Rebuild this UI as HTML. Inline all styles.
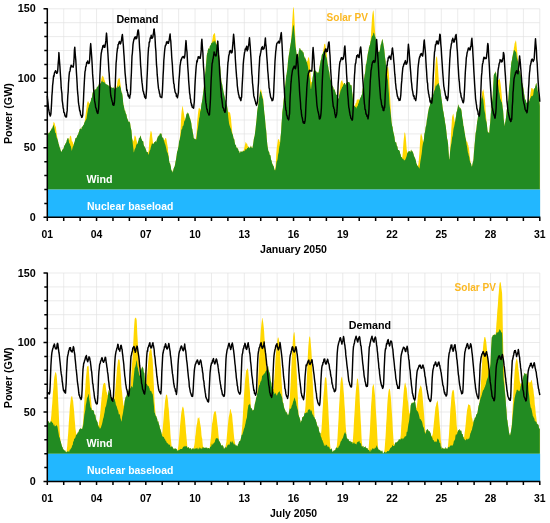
<!DOCTYPE html>
<html><head><meta charset="utf-8"><title>Power supply and demand 2050</title>
<style>html,body{margin:0;padding:0;background:#fff}svg{display:block}</style></head>
<body><svg width="550" height="523" viewBox="0 0 550 523">
<rect width="550" height="523" fill="#fff"/>
<path d="M47.3 203.40H539.8M47.3 189.50H539.8M47.3 175.60H539.8M47.3 161.70H539.8M47.3 147.80H539.8M47.3 133.90H539.8M47.3 120.00H539.8M47.3 106.10H539.8M47.3 92.20H539.8M47.3 78.30H539.8M47.3 64.40H539.8M47.3 50.50H539.8M47.3 36.60H539.8M47.3 22.70H539.8M47.3 8.80H539.8M63.72 8.8V217.3M80.13 8.8V217.3M96.55 8.8V217.3M112.97 8.8V217.3M129.38 8.8V217.3M145.80 8.8V217.3M162.22 8.8V217.3M178.63 8.8V217.3M195.05 8.8V217.3M211.47 8.8V217.3M227.88 8.8V217.3M244.30 8.8V217.3M260.72 8.8V217.3M277.13 8.8V217.3M293.55 8.8V217.3M309.97 8.8V217.3M326.38 8.8V217.3M342.80 8.8V217.3M359.22 8.8V217.3M375.63 8.8V217.3M392.05 8.8V217.3M408.47 8.8V217.3M424.88 8.8V217.3M441.30 8.8V217.3M457.72 8.8V217.3M474.13 8.8V217.3M490.55 8.8V217.3M506.97 8.8V217.3M523.38 8.8V217.3M539.80 8.8V217.3" stroke="#e0e0e0" stroke-width="0.65" fill="none"/>
<path d="M47.3 189.5L47.3 136.1L47.6 135.6L48.0 134.6L48.3 133.6L48.6 133.1L49.0 132.5L49.3 132.8L49.6 133.0L49.9 131.5L50.3 130.7L50.6 130.8L50.9 130.4L51.3 129.5L51.6 128.6L51.9 128.6L52.3 128.4L52.6 127.0L52.9 125.7L53.3 123.7L53.6 122.0L53.9 122.1L54.3 122.8L54.6 123.1L54.9 124.5L55.2 125.7L55.6 126.4L55.9 127.0L56.2 130.0L56.6 133.1L56.9 135.3L57.2 136.8L57.6 139.0L57.9 140.6L58.2 142.1L58.6 144.1L58.9 144.5L59.2 145.8L59.5 147.3L59.9 147.7L60.2 148.8L60.5 150.1L60.9 150.9L61.2 151.4L61.5 151.7L61.9 151.6L62.2 149.8L62.5 149.9L62.9 149.1L63.2 148.4L63.5 149.0L63.8 147.7L64.2 145.7L64.5 145.5L64.8 145.2L65.2 144.3L65.5 143.8L65.8 142.9L66.2 142.6L66.5 142.1L66.8 140.3L67.2 139.5L67.5 138.7L67.8 137.9L68.2 137.9L68.5 139.1L68.8 139.8L69.1 140.2L69.5 139.2L69.8 136.8L70.1 136.1L70.5 136.2L70.8 135.3L71.1 136.5L71.5 138.8L71.8 141.3L72.1 141.5L72.5 141.5L72.8 142.3L73.1 143.7L73.4 145.1L73.8 144.2L74.1 143.0L74.4 142.4L74.8 141.2L75.1 139.8L75.4 138.5L75.8 138.1L76.1 137.8L76.4 138.0L76.8 137.2L77.1 136.1L77.4 135.5L77.8 134.7L78.1 134.5L78.4 133.5L78.7 132.6L79.1 131.2L79.4 130.8L79.7 129.2L80.1 128.4L80.4 128.9L80.7 128.6L81.1 129.1L81.4 129.6L81.7 127.5L82.1 126.7L82.4 126.8L82.7 126.6L83.0 125.7L83.4 125.1L83.7 125.0L84.0 124.1L84.4 122.5L84.7 121.2L85.0 119.0L85.4 116.0L85.7 113.7L86.0 111.2L86.4 109.0L86.7 106.4L87.0 104.1L87.3 102.5L87.7 101.7L88.0 100.7L88.3 101.5L88.7 102.5L89.0 102.4L89.3 103.9L89.7 103.3L90.0 103.1L90.3 102.0L90.7 101.6L91.0 99.9L91.3 97.9L91.7 98.1L92.0 97.1L92.3 94.7L92.6 92.9L93.0 92.1L93.3 91.7L93.6 92.1L94.0 91.2L94.3 90.6L94.6 89.9L95.0 89.3L95.3 89.0L95.6 89.9L96.0 89.3L96.3 89.2L96.6 88.2L96.9 87.2L97.3 86.9L97.6 86.5L97.9 86.4L98.3 85.9L98.6 85.2L98.9 84.2L99.3 84.5L99.6 85.3L99.9 83.9L100.3 83.0L100.6 83.2L100.9 82.4L101.2 79.6L101.6 78.3L101.9 76.8L102.2 75.3L102.6 76.3L102.9 76.4L103.2 76.6L103.6 77.0L103.9 78.4L104.2 79.3L104.6 80.4L104.9 81.0L105.2 82.3L105.6 84.3L105.9 84.1L106.2 84.4L106.5 84.4L106.9 84.2L107.2 84.5L107.5 85.2L107.9 85.0L108.2 85.1L108.5 85.7L108.9 86.5L109.2 86.6L109.5 86.2L109.9 85.5L110.2 85.4L110.5 87.0L110.8 87.4L111.2 87.0L111.5 87.4L111.8 87.9L112.2 88.1L112.5 87.9L112.8 87.5L113.2 88.0L113.5 87.1L113.8 87.9L114.2 88.3L114.5 88.7L114.8 89.5L115.2 88.9L115.5 87.0L115.8 86.7L116.1 87.9L116.5 86.8L116.8 85.9L117.1 84.5L117.5 81.3L117.8 79.4L118.1 79.5L118.5 78.9L118.8 78.3L119.1 78.2L119.5 78.1L119.8 78.7L120.1 81.5L120.4 83.8L120.8 86.3L121.1 89.8L121.4 91.8L121.8 92.9L122.1 93.3L122.4 95.0L122.8 98.3L123.1 102.0L123.4 104.8L123.8 105.8L124.1 107.5L124.4 109.3L124.7 110.8L125.1 110.6L125.4 112.3L125.7 113.3L126.1 114.0L126.4 114.4L126.7 116.2L127.1 118.2L127.4 118.8L127.7 119.5L128.1 120.4L128.4 121.9L128.7 121.7L129.1 121.2L129.4 122.3L129.7 122.3L130.0 122.6L130.4 125.4L130.7 127.7L131.0 128.6L131.4 130.5L131.7 133.7L132.0 137.7L132.4 139.2L132.7 139.7L133.0 140.1L133.4 140.7L133.7 141.7L134.0 139.9L134.3 137.3L134.7 135.4L135.0 135.4L135.3 135.7L135.7 137.0L136.0 137.5L136.3 139.4L136.7 141.0L137.0 142.1L137.3 144.2L137.7 143.6L138.0 141.8L138.3 141.3L138.7 139.9L139.0 137.8L139.3 138.2L139.6 137.9L140.0 136.9L140.3 135.6L140.6 136.0L141.0 137.3L141.3 138.8L141.6 139.3L142.0 140.0L142.3 141.2L142.6 141.0L143.0 141.1L143.3 141.7L143.6 144.4L143.9 145.6L144.3 146.2L144.6 146.8L144.9 147.3L145.3 148.0L145.6 148.7L145.9 149.5L146.3 150.8L146.6 152.1L146.9 152.1L147.3 151.9L147.6 151.9L147.9 152.6L148.2 152.9L148.6 150.6L148.9 147.1L149.2 142.5L149.6 138.3L149.9 135.7L150.2 133.7L150.6 131.6L150.9 130.8L151.2 131.2L151.6 132.2L151.9 133.6L152.2 136.7L152.6 139.6L152.9 142.4L153.2 143.2L153.5 143.7L153.9 143.9L154.2 142.6L154.5 141.9L154.9 142.1L155.2 141.6L155.5 141.0L155.9 141.8L156.2 142.4L156.5 140.9L156.9 139.5L157.2 138.5L157.5 138.1L157.8 136.7L158.2 136.2L158.5 136.6L158.8 135.4L159.2 135.6L159.5 135.3L159.8 133.8L160.2 133.3L160.5 134.1L160.8 133.6L161.2 133.5L161.5 133.9L161.8 135.8L162.2 137.6L162.5 137.9L162.8 137.3L163.1 137.8L163.5 139.0L163.8 140.2L164.1 140.1L164.5 140.0L164.8 139.4L165.1 138.4L165.5 138.0L165.8 138.0L166.1 138.2L166.5 139.7L166.8 141.8L167.1 143.3L167.4 145.1L167.8 147.5L168.1 151.2L168.4 153.5L168.8 156.8L169.1 160.8L169.4 162.5L169.8 163.2L170.1 163.4L170.4 165.0L170.8 166.5L171.1 168.7L171.4 170.7L171.7 170.6L172.1 170.5L172.4 171.4L172.7 172.7L173.1 171.3L173.4 169.6L173.7 168.6L174.1 167.2L174.4 167.1L174.7 166.3L175.1 164.6L175.4 162.5L175.7 161.1L176.1 159.1L176.4 157.0L176.7 155.0L177.0 152.6L177.4 151.0L177.7 150.5L178.0 148.6L178.4 147.1L178.7 145.3L179.0 142.1L179.4 140.6L179.7 139.7L180.0 136.3L180.4 131.3L180.7 126.5L181.0 120.5L181.3 114.4L181.7 110.8L182.0 109.1L182.3 107.1L182.7 105.7L183.0 107.9L183.3 110.0L183.7 112.3L184.0 114.0L184.3 116.1L184.7 118.3L185.0 120.7L185.3 119.1L185.7 118.1L186.0 116.2L186.3 115.1L186.6 113.7L187.0 113.7L187.3 113.8L187.6 112.4L188.0 112.7L188.3 113.6L188.6 113.7L189.0 114.9L189.3 116.2L189.6 117.5L190.0 118.3L190.3 119.2L190.6 120.4L190.9 121.4L191.3 123.2L191.6 126.1L191.9 128.3L192.3 129.1L192.6 131.4L192.9 133.1L193.3 135.0L193.6 137.7L193.9 138.3L194.3 139.1L194.6 138.6L194.9 138.9L195.2 138.9L195.6 138.9L195.9 138.6L196.2 136.2L196.6 131.6L196.9 126.3L197.2 121.1L197.6 117.3L197.9 114.3L198.2 111.8L198.6 109.1L198.9 108.1L199.2 107.6L199.6 108.7L199.9 108.4L200.2 108.4L200.5 109.7L200.9 109.4L201.2 106.1L201.5 103.9L201.9 102.2L202.2 100.3L202.5 98.4L202.9 95.1L203.2 92.4L203.5 90.2L203.9 87.1L204.2 84.5L204.5 81.0L204.8 76.7L205.2 73.2L205.5 71.2L205.8 66.9L206.2 62.9L206.5 59.1L206.8 55.3L207.2 53.0L207.5 52.9L207.8 50.6L208.2 49.0L208.5 48.5L208.8 48.2L209.1 48.9L209.5 48.4L209.8 46.4L210.1 45.3L210.5 45.6L210.8 45.4L211.1 43.1L211.5 43.3L211.8 42.1L212.1 41.2L212.5 38.8L212.8 36.9L213.1 34.8L213.5 34.0L213.8 34.7L214.1 34.1L214.4 33.1L214.8 33.0L215.1 34.3L215.4 37.2L215.8 39.9L216.1 42.1L216.4 43.7L216.8 44.6L217.1 45.8L217.4 47.0L217.8 48.7L218.1 49.6L218.4 48.9L218.7 51.2L219.1 55.1L219.4 58.6L219.7 62.3L220.1 66.3L220.4 69.9L220.7 74.4L221.1 78.1L221.4 81.6L221.7 83.0L222.1 84.1L222.4 85.7L222.7 87.7L223.1 89.4L223.4 91.5L223.7 92.9L224.0 93.9L224.4 95.9L224.7 97.1L225.0 99.0L225.4 100.3L225.7 100.7L226.0 102.8L226.4 104.2L226.7 105.0L227.0 105.8L227.4 108.2L227.7 109.8L228.0 111.0L228.3 111.7L228.7 112.2L229.0 112.5L229.3 112.3L229.7 112.3L230.0 112.6L230.3 113.9L230.7 116.2L231.0 118.3L231.3 122.4L231.7 126.3L232.0 129.7L232.3 132.5L232.6 134.1L233.0 135.5L233.3 137.3L233.6 138.4L234.0 139.0L234.3 139.5L234.6 141.7L235.0 143.7L235.3 144.7L235.6 145.0L236.0 145.3L236.3 147.5L236.6 148.0L237.0 147.1L237.3 148.5L237.6 148.2L237.9 148.4L238.3 149.7L238.6 151.0L238.9 150.9L239.3 151.6L239.6 153.0L239.9 153.2L240.3 152.3L240.6 151.7L240.9 151.0L241.3 151.2L241.6 151.9L241.9 151.9L242.2 151.8L242.6 151.7L242.9 150.7L243.2 150.8L243.6 150.7L243.9 149.7L244.2 148.5L244.6 146.7L244.9 145.1L245.2 144.0L245.6 142.3L245.9 141.7L246.2 142.9L246.6 143.4L246.9 143.8L247.2 143.8L247.5 145.3L247.9 146.3L248.2 146.6L248.5 146.5L248.9 147.5L249.2 148.4L249.5 148.0L249.9 147.2L250.2 147.4L250.5 147.1L250.9 145.5L251.2 146.5L251.5 147.4L251.8 147.8L252.2 148.2L252.5 147.8L252.8 145.9L253.2 143.8L253.5 141.8L253.8 139.2L254.2 137.4L254.5 136.4L254.8 134.9L255.2 131.7L255.5 129.4L255.8 126.6L256.1 123.8L256.5 120.2L256.8 117.0L257.1 112.6L257.5 109.4L257.8 107.5L258.1 105.8L258.5 103.3L258.8 99.5L259.1 97.7L259.5 96.3L259.8 93.5L260.1 90.9L260.5 89.9L260.8 89.1L261.1 89.8L261.4 90.7L261.8 92.6L262.1 93.9L262.4 95.7L262.8 96.5L263.1 98.2L263.4 102.3L263.8 106.1L264.1 110.4L264.4 113.7L264.8 116.4L265.1 120.0L265.4 123.5L265.7 127.2L266.1 129.8L266.4 133.3L266.7 138.0L267.1 142.3L267.4 145.2L267.7 147.2L268.1 149.5L268.4 151.2L268.7 151.4L269.1 151.8L269.4 153.6L269.7 154.9L270.1 155.1L270.4 155.5L270.7 157.1L271.0 159.4L271.4 160.2L271.7 161.5L272.0 162.9L272.4 164.0L272.7 164.5L273.0 165.5L273.4 165.8L273.7 166.6L274.0 167.7L274.4 169.6L274.7 170.1L275.0 170.3L275.3 168.4L275.7 164.4L276.0 159.7L276.3 153.6L276.7 148.9L277.0 146.0L277.3 144.3L277.7 141.2L278.0 138.9L278.3 138.9L278.7 139.7L279.0 139.2L279.3 140.0L279.6 141.8L280.0 142.1L280.3 141.2L280.6 136.5L281.0 133.2L281.3 128.7L281.6 123.3L282.0 117.9L282.3 112.4L282.6 110.0L283.0 106.9L283.3 103.9L283.6 100.6L284.0 96.7L284.3 93.1L284.6 91.1L284.9 88.0L285.3 85.1L285.6 82.2L285.9 79.0L286.3 75.6L286.6 74.4L286.9 71.9L287.3 69.5L287.6 67.0L287.9 62.6L288.3 58.9L288.6 56.8L288.9 54.8L289.2 53.1L289.6 50.9L289.9 48.0L290.2 46.5L290.6 44.0L290.9 42.3L291.2 38.4L291.6 33.2L291.9 27.7L292.2 21.7L292.6 15.9L292.9 10.8L293.2 8.1L293.5 6.7L293.9 9.2L294.2 14.5L294.5 20.4L294.9 27.1L295.2 35.4L295.5 42.3L295.9 47.2L296.2 51.0L296.5 53.5L296.9 55.6L297.2 57.8L297.5 59.4L297.9 58.1L298.2 57.3L298.5 54.2L298.8 51.6L299.2 49.9L299.5 48.4L299.8 47.8L300.2 48.5L300.5 49.7L300.8 49.8L301.2 50.2L301.5 50.9L301.8 50.3L302.2 50.5L302.5 51.4L302.8 52.6L303.1 51.9L303.5 52.8L303.8 54.3L304.1 55.9L304.5 57.2L304.8 57.9L305.1 57.4L305.5 58.9L305.8 59.5L306.1 60.1L306.5 61.8L306.8 62.1L307.1 61.3L307.5 60.9L307.8 59.1L308.1 58.0L308.4 57.4L308.8 57.0L309.1 58.2L309.4 59.8L309.8 62.5L310.1 67.5L310.4 73.0L310.8 79.2L311.1 82.3L311.4 82.1L311.8 81.6L312.1 81.9L312.4 79.7L312.7 77.3L313.1 75.0L313.4 72.7L313.7 70.4L314.1 71.1L314.4 71.1L314.7 71.2L315.1 71.0L315.4 70.3L315.7 71.0L316.1 71.6L316.4 71.8L316.7 71.8L317.0 73.4L317.4 73.0L317.7 71.9L318.0 71.9L318.4 73.0L318.7 72.2L319.0 70.0L319.4 68.3L319.7 66.3L320.0 64.6L320.4 62.2L320.7 60.6L321.0 59.8L321.4 58.3L321.7 55.7L322.0 54.5L322.3 54.1L322.7 54.0L323.0 51.8L323.3 50.1L323.7 48.2L324.0 45.5L324.3 43.9L324.7 43.9L325.0 43.5L325.3 44.6L325.7 46.9L326.0 49.3L326.3 51.0L326.6 52.7L327.0 56.1L327.3 60.3L327.6 63.4L328.0 65.5L328.3 67.2L328.6 69.7L329.0 71.1L329.3 72.5L329.6 75.1L330.0 78.4L330.3 79.3L330.6 80.2L331.0 80.7L331.3 81.9L331.6 82.3L331.9 83.8L332.3 86.3L332.6 86.4L332.9 86.3L333.3 87.4L333.6 88.9L333.9 90.1L334.3 89.5L334.6 89.3L334.9 90.7L335.3 91.9L335.6 93.0L335.9 94.2L336.2 94.6L336.6 95.0L336.9 94.9L337.2 96.7L337.6 98.3L337.9 98.3L338.2 98.3L338.6 99.0L338.9 97.4L339.2 93.6L339.6 90.9L339.9 88.7L340.2 86.1L340.5 83.3L340.9 82.0L341.2 81.0L341.5 80.6L341.9 80.4L342.2 80.3L342.5 81.8L342.9 83.0L343.2 83.0L343.5 83.8L343.9 84.2L344.2 82.9L344.5 82.9L344.9 82.9L345.2 84.2L345.5 85.2L345.8 84.6L346.2 83.1L346.5 83.0L346.8 82.6L347.2 82.6L347.5 82.8L347.8 81.6L348.2 82.1L348.5 82.0L348.8 82.3L349.2 82.3L349.5 82.4L349.8 83.6L350.1 84.6L350.5 85.0L350.8 85.6L351.1 85.3L351.5 85.3L351.8 88.5L352.1 92.0L352.5 94.6L352.8 97.8L353.1 101.1L353.5 103.4L353.8 104.5L354.1 105.5L354.5 106.3L354.8 105.3L355.1 105.4L355.4 103.9L355.8 102.8L356.1 103.3L356.4 102.1L356.8 99.8L357.1 99.4L357.4 99.8L357.8 99.6L358.1 98.8L358.4 99.4L358.8 99.8L359.1 99.5L359.4 100.0L359.7 99.7L360.1 98.5L360.4 97.8L360.7 97.4L361.1 96.6L361.4 95.5L361.7 95.0L362.1 93.8L362.4 91.3L362.7 89.3L363.1 87.1L363.4 84.8L363.7 82.7L364.0 79.1L364.4 76.9L364.7 74.6L365.0 73.4L365.4 70.7L365.7 66.3L366.0 64.3L366.4 63.4L366.7 61.6L367.0 59.2L367.4 56.6L367.7 54.6L368.0 52.8L368.4 51.3L368.7 49.8L369.0 47.2L369.3 46.7L369.7 45.3L370.0 44.7L370.3 42.8L370.7 39.0L371.0 34.8L371.3 29.0L371.7 23.3L372.0 18.2L372.3 14.9L372.7 12.6L373.0 11.0L373.3 10.2L373.6 11.5L374.0 15.2L374.3 19.9L374.6 25.7L375.0 30.9L375.3 34.6L375.6 37.8L376.0 40.7L376.3 43.3L376.6 45.8L377.0 49.1L377.3 51.5L377.6 52.6L378.0 51.9L378.3 52.0L378.6 51.8L378.9 51.5L379.3 52.2L379.6 50.9L379.9 50.0L380.3 48.1L380.6 45.6L380.9 44.3L381.3 43.4L381.6 42.1L381.9 40.6L382.3 38.9L382.6 39.8L382.9 41.8L383.2 43.0L383.6 45.7L383.9 47.2L384.2 49.3L384.6 53.0L384.9 56.4L385.2 58.6L385.6 61.5L385.9 64.9L386.2 67.4L386.6 69.1L386.9 69.9L387.2 68.1L387.5 67.0L387.9 65.5L388.2 67.3L388.5 70.0L388.9 74.0L389.2 79.6L389.5 86.2L389.9 92.4L390.2 97.9L390.5 104.0L390.9 111.0L391.2 116.8L391.5 121.8L391.9 124.6L392.2 126.5L392.5 126.6L392.8 128.9L393.2 131.6L393.5 132.7L393.8 134.0L394.2 135.8L394.5 137.2L394.8 139.8L395.2 142.4L395.5 142.5L395.8 141.8L396.2 142.6L396.5 144.2L396.8 145.8L397.1 146.0L397.5 147.0L397.8 149.0L398.1 150.1L398.5 150.1L398.8 149.9L399.1 150.3L399.5 151.1L399.8 151.6L400.1 153.6L400.5 154.2L400.8 155.6L401.1 157.3L401.4 157.3L401.8 156.7L402.1 158.1L402.4 156.6L402.8 151.9L403.1 147.2L403.4 142.9L403.8 138.8L404.1 136.5L404.4 133.1L404.8 132.2L405.1 132.9L405.4 134.6L405.8 137.7L406.1 141.4L406.4 145.5L406.7 149.5L407.1 151.2L407.4 153.2L407.7 152.6L408.1 152.2L408.4 151.9L408.7 151.0L409.1 151.0L409.4 151.7L409.7 151.2L410.1 150.8L410.4 152.2L410.7 151.9L411.0 149.6L411.4 150.2L411.7 151.4L412.0 151.2L412.4 151.3L412.7 151.9L413.0 152.6L413.4 153.7L413.7 154.8L414.0 156.3L414.4 156.8L414.7 157.4L415.0 158.0L415.4 159.3L415.7 160.0L416.0 161.5L416.3 163.2L416.7 163.9L417.0 164.7L417.3 165.4L417.7 165.9L418.0 166.1L418.3 164.5L418.7 161.6L419.0 157.3L419.3 154.2L419.7 148.5L420.0 142.2L420.3 137.8L420.6 134.9L421.0 133.7L421.3 133.6L421.6 135.3L422.0 136.0L422.3 137.2L422.6 139.8L423.0 141.1L423.3 142.3L423.6 141.2L424.0 138.5L424.3 135.1L424.6 133.3L424.9 132.6L425.3 129.9L425.6 127.4L425.9 126.2L426.3 125.0L426.6 122.6L426.9 119.8L427.3 118.0L427.6 116.2L427.9 113.6L428.3 111.5L428.6 110.1L428.9 108.2L429.3 106.9L429.6 106.2L429.9 105.4L430.2 102.4L430.6 100.6L430.9 99.2L431.2 98.2L431.6 96.8L431.9 98.4L432.2 96.7L432.6 95.2L432.9 94.8L433.2 94.8L433.6 93.5L433.9 91.8L434.2 88.5L434.5 83.8L434.9 77.8L435.2 71.0L435.5 64.8L435.9 59.5L436.2 57.3L436.5 57.1L436.9 56.0L437.2 58.6L437.5 62.6L437.9 66.6L438.2 71.2L438.5 76.2L438.9 81.8L439.2 85.2L439.5 85.9L439.8 87.8L440.2 89.1L440.5 90.8L440.8 93.8L441.2 96.7L441.5 99.0L441.8 100.8L442.2 103.9L442.5 106.6L442.8 108.9L443.2 110.9L443.5 112.2L443.8 114.3L444.1 116.6L444.5 118.0L444.8 120.6L445.1 122.7L445.5 124.7L445.8 126.4L446.1 129.3L446.5 132.7L446.8 135.9L447.1 138.4L447.5 140.1L447.8 142.1L448.1 144.5L448.4 149.6L448.8 154.2L449.1 159.4L449.4 159.3L449.8 155.5L450.1 149.9L450.4 144.3L450.8 137.9L451.1 132.2L451.4 127.7L451.8 122.0L452.1 117.3L452.4 115.9L452.8 115.1L453.1 113.8L453.4 114.1L453.7 115.9L454.1 118.2L454.4 120.3L454.7 121.8L455.1 121.7L455.4 119.9L455.7 118.1L456.1 115.7L456.4 112.8L456.7 111.8L457.1 110.7L457.4 109.1L457.7 108.0L458.0 105.8L458.4 104.2L458.7 106.1L459.0 106.7L459.4 107.1L459.7 108.1L460.0 108.9L460.4 108.5L460.7 107.5L461.0 108.8L461.4 110.5L461.7 112.6L462.0 115.7L462.4 118.5L462.7 119.7L463.0 121.8L463.3 125.4L463.7 126.5L464.0 127.9L464.3 130.8L464.7 133.0L465.0 134.6L465.3 137.1L465.7 138.4L466.0 139.3L466.3 140.9L466.7 141.7L467.0 141.6L467.3 142.0L467.6 143.0L468.0 144.9L468.3 145.0L468.6 147.1L469.0 148.8L469.3 151.3L469.6 154.8L470.0 158.0L470.3 160.7L470.6 162.3L471.0 163.4L471.3 164.7L471.6 166.6L471.9 166.4L472.3 165.2L472.6 163.4L472.9 162.3L473.3 160.9L473.6 158.3L473.9 152.9L474.3 148.4L474.6 144.7L474.9 141.8L475.3 137.0L475.6 133.6L475.9 131.7L476.3 130.0L476.6 127.3L476.9 124.2L477.2 121.7L477.6 119.7L477.9 117.5L478.2 114.9L478.6 113.6L478.9 112.5L479.2 109.5L479.6 108.3L479.9 106.7L480.2 105.7L480.6 104.7L480.9 102.9L481.2 101.1L481.5 98.3L481.9 95.9L482.2 91.6L482.5 91.5L482.9 90.6L483.2 89.0L483.5 90.2L483.9 92.6L484.2 95.3L484.5 97.4L484.9 100.1L485.2 103.6L485.5 109.5L485.9 114.5L486.2 117.7L486.5 120.9L486.8 123.6L487.2 127.4L487.5 130.7L487.8 131.9L488.2 132.7L488.5 132.5L488.8 132.3L489.2 133.4L489.5 130.1L489.8 126.2L490.2 122.7L490.5 119.0L490.8 114.7L491.1 111.3L491.5 107.5L491.8 104.2L492.1 101.8L492.5 98.5L492.8 94.1L493.1 87.5L493.5 81.0L493.8 75.5L494.1 74.3L494.5 73.5L494.8 73.5L495.1 73.3L495.4 72.4L495.8 71.2L496.1 73.1L496.4 75.9L496.8 77.3L497.1 79.3L497.4 81.9L497.8 81.5L498.1 80.3L498.4 79.7L498.8 79.9L499.1 79.4L499.4 78.3L499.8 79.3L500.1 81.1L500.4 82.8L500.7 84.7L501.1 88.6L501.4 92.1L501.7 94.9L502.1 99.5L502.4 104.3L502.7 108.1L503.1 110.5L503.4 114.8L503.7 119.2L504.1 122.3L504.4 124.3L504.7 126.4L505.0 123.2L505.4 121.6L505.7 119.9L506.0 117.3L506.4 113.8L506.7 110.5L507.0 108.5L507.4 104.9L507.7 102.0L508.0 101.9L508.4 98.1L508.7 94.0L509.0 89.2L509.3 86.4L509.7 83.2L510.0 79.1L510.3 74.0L510.7 69.3L511.0 66.2L511.3 63.0L511.7 61.1L512.0 59.9L512.3 57.6L512.7 55.7L513.0 54.1L513.3 53.1L513.7 49.7L514.0 47.3L514.3 46.0L514.6 43.6L515.0 42.4L515.3 41.9L515.6 40.6L516.0 40.8L516.3 42.4L516.6 46.1L517.0 50.0L517.3 52.5L517.6 56.0L518.0 58.9L518.3 61.6L518.6 64.6L518.9 68.1L519.3 70.4L519.6 70.7L519.9 71.3L520.3 73.3L520.6 74.9L520.9 77.0L521.3 78.7L521.6 80.4L521.9 82.2L522.3 83.3L522.6 84.6L522.9 85.8L523.3 87.9L523.6 89.8L523.9 92.2L524.2 94.2L524.6 96.8L524.9 98.8L525.2 99.5L525.6 99.8L525.9 100.5L526.2 102.1L526.6 103.2L526.9 102.9L527.2 102.7L527.6 103.1L527.9 101.7L528.2 102.0L528.5 100.3L528.9 99.2L529.2 101.5L529.5 100.2L529.9 96.8L530.2 95.0L530.5 93.1L530.9 91.0L531.2 88.6L531.5 87.9L531.9 88.0L532.2 88.1L532.5 88.6L532.8 89.2L533.2 90.0L533.5 89.1L533.8 89.0L534.2 88.0L534.5 88.1L534.8 88.4L535.2 86.7L535.5 85.9L535.8 84.5L536.2 82.8L536.5 83.9L536.8 85.6L537.2 87.5L537.5 89.9L537.8 91.5L538.1 92.3L538.5 93.7L538.8 96.6L539.1 99.3L539.5 102.8L539.8 105.9L539.8 189.5Z" fill="#ffd700"/>
<path d="M47.3 189.5L47.3 136.1L47.6 135.6L48.0 134.6L48.3 133.6L48.6 133.1L49.0 132.5L49.3 132.8L49.6 133.0L49.9 131.5L50.3 130.7L50.6 130.8L50.9 130.4L51.3 129.5L51.6 128.6L51.9 128.6L52.3 128.4L52.6 127.0L52.9 126.4L53.3 125.3L53.6 124.8L53.9 126.2L54.3 128.1L54.6 129.3L54.9 131.3L55.2 132.7L55.6 133.1L55.9 133.2L56.2 135.3L56.6 137.2L56.9 138.1L57.2 138.4L57.6 139.7L57.9 140.7L58.2 142.1L58.6 144.1L58.9 144.5L59.2 145.8L59.5 147.3L59.9 147.7L60.2 148.8L60.5 150.1L60.9 150.9L61.2 151.4L61.5 151.7L61.9 151.6L62.2 149.8L62.5 149.9L62.9 149.1L63.2 148.4L63.5 149.0L63.8 147.7L64.2 145.7L64.5 145.5L64.8 145.2L65.2 144.3L65.5 143.8L65.8 142.9L66.2 142.6L66.5 142.1L66.8 140.3L67.2 139.5L67.5 138.7L67.8 137.9L68.2 137.9L68.5 139.1L68.8 140.8L69.1 142.8L69.5 143.7L69.8 143.3L70.1 144.5L70.5 146.1L70.8 146.1L71.1 147.7L71.5 149.6L71.8 151.1L72.1 149.8L72.5 148.0L72.8 146.8L73.1 146.3L73.4 146.1L73.8 144.2L74.1 143.0L74.4 142.4L74.8 141.2L75.1 139.8L75.4 138.5L75.8 138.1L76.1 137.8L76.4 138.0L76.8 137.2L77.1 136.1L77.4 135.5L77.8 134.7L78.1 134.5L78.4 133.5L78.7 132.6L79.1 131.2L79.4 130.8L79.7 129.2L80.1 128.4L80.4 128.9L80.7 128.6L81.1 129.1L81.4 129.6L81.7 127.5L82.1 126.7L82.4 126.8L82.7 126.6L83.0 125.7L83.4 125.1L83.7 125.0L84.0 124.1L84.4 122.6L84.7 122.2L85.0 121.6L85.4 120.6L85.7 120.3L86.0 119.6L86.4 118.9L86.7 117.2L87.0 115.3L87.3 113.3L87.7 111.5L88.0 109.1L88.3 108.0L88.7 107.1L89.0 105.0L89.3 104.9L89.7 103.4L90.0 103.1L90.3 102.0L90.7 101.6L91.0 99.9L91.3 97.9L91.7 98.1L92.0 97.1L92.3 94.7L92.6 92.9L93.0 92.1L93.3 91.7L93.6 92.1L94.0 91.2L94.3 90.6L94.6 89.9L95.0 89.3L95.3 89.0L95.6 89.9L96.0 89.3L96.3 89.2L96.6 88.2L96.9 87.2L97.3 86.9L97.6 86.5L97.9 86.4L98.3 85.9L98.6 85.2L98.9 84.2L99.3 84.5L99.6 85.3L99.9 83.9L100.3 83.0L100.6 83.7L100.9 83.7L101.2 81.9L101.6 81.6L101.9 80.9L102.2 80.3L102.6 81.7L102.9 82.0L103.2 82.0L103.6 82.0L103.9 82.6L104.2 82.5L104.6 82.6L104.9 82.3L105.2 82.8L105.6 84.3L105.9 84.1L106.2 84.4L106.5 84.4L106.9 84.2L107.2 84.5L107.5 85.2L107.9 85.0L108.2 85.1L108.5 85.7L108.9 86.5L109.2 86.6L109.5 86.2L109.9 85.5L110.2 85.4L110.5 87.0L110.8 87.4L111.2 87.0L111.5 87.4L111.8 87.9L112.2 88.1L112.5 87.9L112.8 87.5L113.2 88.0L113.5 87.1L113.8 87.9L114.2 88.3L114.5 88.7L114.8 89.5L115.2 88.9L115.5 87.0L115.8 86.7L116.1 87.9L116.5 87.5L116.8 87.9L117.1 87.9L117.5 86.2L117.8 85.6L118.1 86.9L118.5 87.0L118.8 86.6L119.1 86.3L119.5 85.5L119.8 84.9L120.1 86.4L120.4 87.2L120.8 88.2L121.1 90.5L121.4 91.8L121.8 92.9L122.1 93.3L122.4 95.0L122.8 98.3L123.1 102.0L123.4 104.8L123.8 105.8L124.1 107.5L124.4 109.3L124.7 110.8L125.1 110.6L125.4 112.3L125.7 113.3L126.1 114.0L126.4 114.4L126.7 116.2L127.1 118.2L127.4 118.8L127.7 119.5L128.1 120.4L128.4 121.9L128.7 121.7L129.1 121.2L129.4 122.3L129.7 122.3L130.0 122.6L130.4 125.4L130.7 127.7L131.0 128.6L131.4 130.5L131.7 133.7L132.0 137.8L132.4 140.4L132.7 143.0L133.0 145.8L133.4 148.8L133.7 152.2L134.0 152.2L134.3 150.8L134.7 149.3L135.0 148.9L135.3 148.0L135.7 147.5L136.0 145.7L136.3 145.1L136.7 144.2L137.0 143.3L137.3 144.2L137.7 143.6L138.0 141.8L138.3 141.3L138.7 139.9L139.0 137.8L139.3 138.2L139.6 137.9L140.0 136.9L140.3 135.6L140.6 136.0L141.0 137.3L141.3 138.8L141.6 139.3L142.0 140.0L142.3 141.2L142.6 141.0L143.0 141.1L143.3 141.7L143.6 144.4L143.9 145.6L144.3 146.2L144.6 146.8L144.9 147.3L145.3 148.0L145.6 148.7L145.9 149.5L146.3 150.8L146.6 152.1L146.9 152.1L147.3 151.9L147.6 151.9L147.9 152.7L148.2 154.4L148.6 154.5L148.9 154.0L149.2 152.3L149.6 150.8L149.9 150.5L150.2 149.9L150.6 148.2L150.9 147.0L151.2 146.0L151.6 144.7L151.9 143.4L152.2 143.5L152.6 143.5L152.9 143.9L153.2 143.2L153.5 143.7L153.9 143.9L154.2 142.6L154.5 141.9L154.9 142.1L155.2 141.6L155.5 141.0L155.9 141.8L156.2 142.4L156.5 140.9L156.9 139.5L157.2 138.5L157.5 138.1L157.8 136.7L158.2 136.2L158.5 136.6L158.8 135.4L159.2 135.6L159.5 135.3L159.8 133.8L160.2 133.3L160.5 134.1L160.8 133.6L161.2 133.5L161.5 133.9L161.8 135.8L162.2 137.6L162.5 137.9L162.8 137.3L163.1 137.8L163.5 139.0L163.8 140.2L164.1 140.9L164.5 142.2L164.8 143.4L165.1 144.1L165.5 145.3L165.8 146.6L166.1 147.7L166.5 149.4L166.8 151.3L167.1 151.9L167.4 152.5L167.8 153.2L168.1 155.2L168.4 155.8L168.8 157.7L169.1 160.8L169.4 162.5L169.8 163.2L170.1 163.4L170.4 165.0L170.8 166.5L171.1 168.7L171.4 170.7L171.7 170.6L172.1 170.5L172.4 171.4L172.7 172.7L173.1 171.3L173.4 169.6L173.7 168.6L174.1 167.2L174.4 167.1L174.7 166.3L175.1 164.6L175.4 162.5L175.7 161.1L176.1 159.1L176.4 157.0L176.7 155.0L177.0 152.6L177.4 151.0L177.7 150.5L178.0 148.6L178.4 147.1L178.7 145.3L179.0 142.1L179.4 140.6L179.7 139.7L180.0 138.1L180.4 136.2L180.7 135.0L181.0 132.7L181.3 130.1L181.7 129.3L182.0 129.3L182.3 127.9L182.7 125.9L183.0 126.3L183.3 125.7L183.7 124.6L184.0 122.5L184.3 121.0L184.7 120.2L185.0 120.8L185.3 119.1L185.7 118.1L186.0 116.2L186.3 115.1L186.6 113.7L187.0 113.7L187.3 113.8L187.6 112.4L188.0 112.7L188.3 113.6L188.6 113.7L189.0 114.9L189.3 116.2L189.6 117.5L190.0 118.3L190.3 119.2L190.6 120.4L190.9 121.4L191.3 123.2L191.6 126.1L191.9 128.3L192.3 129.1L192.6 131.4L192.9 133.1L193.3 135.0L193.6 137.7L193.9 138.3L194.3 139.1L194.6 138.6L194.9 138.9L195.2 138.9L195.6 139.0L195.9 139.9L196.2 139.5L196.6 137.3L196.9 134.5L197.2 131.5L197.6 129.6L197.9 127.8L198.2 125.7L198.6 122.6L198.9 120.4L199.2 118.0L199.6 116.9L199.9 114.1L200.2 111.6L200.5 110.9L200.9 109.5L201.2 106.1L201.5 103.9L201.9 102.2L202.2 100.3L202.5 98.4L202.9 95.1L203.2 92.4L203.5 90.2L203.9 87.1L204.2 84.5L204.5 81.0L204.8 76.7L205.2 73.2L205.5 71.2L205.8 66.9L206.2 62.9L206.5 59.1L206.8 55.3L207.2 53.0L207.5 52.9L207.8 50.6L208.2 49.0L208.5 48.5L208.8 48.2L209.1 48.9L209.5 48.4L209.8 46.4L210.1 45.3L210.5 45.6L210.8 45.4L211.1 43.1L211.5 43.4L211.8 42.9L212.1 43.2L212.5 42.2L212.8 41.8L213.1 41.0L213.5 41.4L213.8 42.8L214.1 42.4L214.4 41.2L214.8 40.4L215.1 40.6L215.4 42.1L215.8 43.3L216.1 44.0L216.4 44.4L216.8 44.7L217.1 45.8L217.4 47.0L217.8 48.7L218.1 49.6L218.4 48.9L218.7 51.2L219.1 55.1L219.4 58.6L219.7 62.3L220.1 66.3L220.4 69.9L220.7 74.4L221.1 78.1L221.4 81.6L221.7 83.0L222.1 84.1L222.4 85.7L222.7 87.7L223.1 89.4L223.4 91.5L223.7 92.9L224.0 93.9L224.4 95.9L224.7 97.1L225.0 99.0L225.4 100.3L225.7 100.7L226.0 102.8L226.4 104.2L226.7 105.0L227.0 105.8L227.4 108.3L227.7 111.0L228.0 114.3L228.3 117.4L228.7 120.4L229.0 122.9L229.3 124.6L229.7 125.8L230.0 126.5L230.3 127.4L230.7 128.5L231.0 128.7L231.3 130.6L231.7 131.9L232.0 132.9L232.3 133.8L232.6 134.2L233.0 135.5L233.3 137.3L233.6 138.4L234.0 139.0L234.3 139.5L234.6 141.7L235.0 143.7L235.3 144.7L235.6 145.0L236.0 145.3L236.3 147.5L236.6 148.0L237.0 147.1L237.3 148.5L237.6 148.2L237.9 148.4L238.3 149.7L238.6 151.0L238.9 150.9L239.3 151.6L239.6 153.0L239.9 153.2L240.3 152.3L240.6 151.7L240.9 151.0L241.3 151.2L241.6 151.9L241.9 151.9L242.2 151.8L242.6 151.7L242.9 150.7L243.2 150.8L243.6 151.3L243.9 151.3L244.2 151.3L244.6 150.8L244.9 150.3L245.2 150.2L245.6 149.1L245.9 148.7L246.2 149.6L246.6 149.6L246.9 149.1L247.2 147.9L247.5 148.1L247.9 148.0L248.2 147.2L248.5 146.5L248.9 147.5L249.2 148.4L249.5 148.0L249.9 147.2L250.2 147.4L250.5 147.1L250.9 145.5L251.2 146.5L251.5 147.4L251.8 147.8L252.2 148.2L252.5 147.8L252.8 145.9L253.2 143.8L253.5 141.8L253.8 139.2L254.2 137.4L254.5 136.4L254.8 134.9L255.2 131.7L255.5 129.4L255.8 126.6L256.1 123.8L256.5 120.2L256.8 117.0L257.1 112.6L257.5 109.4L257.8 107.5L258.1 105.8L258.5 103.3L258.8 99.5L259.1 97.7L259.5 96.6L259.8 94.1L260.1 92.0L260.5 91.6L260.8 91.2L261.1 92.3L261.4 93.4L261.8 95.3L262.1 96.6L262.4 98.2L262.8 98.6L263.1 99.8L263.4 103.5L263.8 106.7L264.1 110.6L264.4 113.7L264.8 116.4L265.1 120.0L265.4 123.5L265.7 127.2L266.1 129.8L266.4 133.3L266.7 138.0L267.1 142.3L267.4 145.2L267.7 147.2L268.1 149.5L268.4 151.2L268.7 151.4L269.1 151.8L269.4 153.6L269.7 154.9L270.1 155.1L270.4 155.5L270.7 157.1L271.0 159.4L271.4 160.2L271.7 161.5L272.0 162.9L272.4 164.0L272.7 164.5L273.0 165.5L273.4 165.8L273.7 166.6L274.0 167.7L274.4 169.6L274.7 170.1L275.0 170.4L275.3 169.9L275.7 168.3L276.0 166.5L276.3 163.4L276.7 161.5L277.0 160.7L277.3 160.5L277.7 157.9L278.0 155.1L278.3 153.7L278.7 152.3L279.0 149.0L279.3 146.8L279.6 145.7L280.0 143.6L280.3 141.3L280.6 136.5L281.0 133.2L281.3 128.7L281.6 123.3L282.0 117.9L282.3 112.4L282.6 110.0L283.0 106.9L283.3 103.9L283.6 100.6L284.0 96.7L284.3 93.1L284.6 91.1L284.9 88.0L285.3 85.1L285.6 82.2L285.9 79.0L286.3 75.6L286.6 74.4L286.9 71.9L287.3 69.5L287.6 67.0L287.9 62.6L288.3 58.9L288.6 56.8L288.9 54.8L289.2 53.1L289.6 50.9L289.9 48.0L290.2 46.5L290.6 44.0L290.9 42.4L291.2 40.1L291.6 37.5L291.9 35.0L292.2 32.4L292.6 29.5L292.9 26.8L293.2 25.6L293.5 24.8L293.9 26.8L294.2 30.5L294.5 34.0L294.9 37.7L295.2 42.8L295.5 46.5L295.9 48.8L296.2 51.1L296.5 53.5L296.9 55.6L297.2 57.8L297.5 59.4L297.9 58.1L298.2 57.3L298.5 54.2L298.8 51.6L299.2 49.9L299.5 48.4L299.8 47.8L300.2 48.5L300.5 49.7L300.8 49.8L301.2 50.2L301.5 50.9L301.8 50.3L302.2 50.5L302.5 51.4L302.8 52.6L303.1 51.9L303.5 52.8L303.8 54.3L304.1 55.9L304.5 57.2L304.8 57.9L305.1 57.4L305.5 58.9L305.8 59.5L306.1 60.1L306.5 61.8L306.8 62.2L307.1 62.8L307.5 64.8L307.8 65.9L308.1 67.8L308.4 69.9L308.8 71.7L309.1 74.4L309.4 76.5L309.8 78.7L310.1 82.2L310.4 85.5L310.8 89.0L311.1 89.1L311.4 86.0L311.8 83.1L312.1 82.0L312.4 79.7L312.7 77.3L313.1 75.0L313.4 72.7L313.7 70.4L314.1 71.1L314.4 71.1L314.7 71.2L315.1 71.0L315.4 70.3L315.7 71.0L316.1 71.6L316.4 71.8L316.7 71.8L317.0 73.4L317.4 73.0L317.7 71.9L318.0 71.9L318.4 73.0L318.7 72.2L319.0 70.0L319.4 68.3L319.7 66.3L320.0 64.6L320.4 62.2L320.7 60.6L321.0 59.8L321.4 58.3L321.7 55.7L322.0 54.5L322.3 54.1L322.7 54.0L323.0 52.6L323.3 52.0L323.7 51.6L324.0 50.4L324.3 50.2L324.7 51.3L325.0 51.6L325.3 53.0L325.7 55.0L326.0 56.6L326.3 57.3L326.6 57.6L327.0 59.5L327.3 62.2L327.6 64.2L328.0 65.5L328.3 67.2L328.6 69.7L329.0 71.1L329.3 72.5L329.6 75.1L330.0 78.4L330.3 79.3L330.6 80.2L331.0 80.7L331.3 81.9L331.6 82.3L331.9 83.8L332.3 86.3L332.6 86.4L332.9 86.3L333.3 87.4L333.6 88.9L333.9 90.1L334.3 89.5L334.6 89.3L334.9 90.7L335.3 91.9L335.6 93.0L335.9 94.2L336.2 94.6L336.6 95.0L336.9 94.9L337.2 96.7L337.6 98.3L337.9 98.3L338.2 98.3L338.6 99.0L338.9 98.2L339.2 95.6L339.6 94.3L339.9 93.6L340.2 92.3L340.5 90.7L340.9 90.1L341.2 89.3L341.5 88.7L341.9 87.8L342.2 86.6L342.5 86.7L342.9 86.4L343.2 84.9L343.5 84.5L343.9 84.3L344.2 82.9L344.5 82.9L344.9 82.9L345.2 84.2L345.5 85.2L345.8 84.6L346.2 83.1L346.5 83.0L346.8 82.6L347.2 82.6L347.5 82.8L347.8 81.6L348.2 82.1L348.5 82.0L348.8 82.3L349.2 82.3L349.5 82.4L349.8 83.6L350.1 84.6L350.5 85.0L350.8 85.6L351.1 85.3L351.5 85.3L351.8 88.5L352.1 92.0L352.5 94.6L352.8 97.8L353.1 101.1L353.5 103.4L353.8 104.5L354.1 105.5L354.5 106.3L354.8 105.9L355.1 107.1L355.4 106.7L355.8 106.9L356.1 108.5L356.4 108.3L356.8 106.6L357.1 106.3L357.4 106.6L357.8 105.8L358.1 104.1L358.4 103.4L358.8 102.7L359.1 101.2L359.4 100.6L359.7 99.7L360.1 98.5L360.4 97.8L360.7 97.4L361.1 96.6L361.4 95.5L361.7 95.0L362.1 93.8L362.4 91.3L362.7 89.3L363.1 87.1L363.4 84.8L363.7 82.7L364.0 79.1L364.4 76.9L364.7 74.6L365.0 73.4L365.4 70.7L365.7 66.3L366.0 64.3L366.4 63.4L366.7 61.6L367.0 59.2L367.4 56.6L367.7 54.6L368.0 52.8L368.4 51.3L368.7 49.8L369.0 47.2L369.3 46.7L369.7 45.3L370.0 44.7L370.3 42.9L370.7 41.1L371.0 40.4L371.3 38.7L371.7 37.2L372.0 36.0L372.3 35.9L372.7 35.5L373.0 34.7L373.3 33.2L373.6 32.4L374.0 33.0L374.3 33.8L374.6 35.3L375.0 36.5L375.3 36.7L375.6 37.9L376.0 40.7L376.3 43.3L376.6 45.8L377.0 49.1L377.3 51.5L377.6 52.6L378.0 51.9L378.3 52.0L378.6 51.8L378.9 51.5L379.3 52.2L379.6 50.9L379.9 50.0L380.3 48.1L380.6 45.6L380.9 44.3L381.3 43.4L381.6 42.1L381.9 40.6L382.3 38.9L382.6 39.8L382.9 41.8L383.2 43.0L383.6 45.7L383.9 47.2L384.2 49.3L384.6 53.0L384.9 56.4L385.2 58.6L385.6 61.5L385.9 64.9L386.2 67.5L386.6 70.8L386.9 74.5L387.2 76.0L387.5 78.4L387.9 80.1L388.2 84.6L388.5 88.9L388.9 93.4L389.2 98.5L389.5 103.5L389.9 107.0L390.2 109.4L390.5 111.9L390.9 115.5L391.2 118.5L391.5 121.9L391.9 124.6L392.2 126.5L392.5 126.6L392.8 128.9L393.2 131.6L393.5 132.7L393.8 134.0L394.2 135.8L394.5 137.2L394.8 139.8L395.2 142.4L395.5 142.5L395.8 141.8L396.2 142.6L396.5 144.2L396.8 145.8L397.1 146.0L397.5 147.0L397.8 149.0L398.1 150.1L398.5 150.1L398.8 149.9L399.1 150.3L399.5 151.1L399.8 151.6L400.1 153.6L400.5 154.2L400.8 155.6L401.1 157.3L401.4 157.3L401.8 156.7L402.1 158.3L402.4 159.1L402.8 158.4L403.1 158.6L403.4 159.3L403.8 159.7L404.1 161.1L404.4 160.1L404.8 160.0L405.1 159.9L405.4 159.3L405.8 158.6L406.1 157.8L406.4 156.8L406.7 156.0L407.1 153.7L407.4 153.3L407.7 152.6L408.1 152.2L408.4 151.9L408.7 151.0L409.1 151.0L409.4 151.7L409.7 151.2L410.1 150.8L410.4 152.2L410.7 151.9L411.0 149.6L411.4 150.2L411.7 151.4L412.0 151.2L412.4 151.3L412.7 151.9L413.0 152.6L413.4 153.7L413.7 154.8L414.0 156.3L414.4 156.8L414.7 157.4L415.0 158.0L415.4 159.3L415.7 160.0L416.0 161.5L416.3 163.2L416.7 163.9L417.0 164.7L417.3 165.4L417.7 165.9L418.0 166.2L418.3 166.7L418.7 167.5L419.0 167.6L419.3 169.0L419.7 167.3L420.0 164.3L420.3 162.1L420.6 159.9L421.0 158.0L421.3 155.8L421.6 154.2L422.0 150.8L422.3 147.4L422.6 145.6L423.0 143.3L423.3 142.3L423.6 141.2L424.0 138.5L424.3 135.1L424.6 133.3L424.9 132.6L425.3 129.9L425.6 127.4L425.9 126.2L426.3 125.0L426.6 122.6L426.9 119.8L427.3 118.0L427.6 116.2L427.9 113.6L428.3 111.5L428.6 110.1L428.9 108.2L429.3 106.9L429.6 106.2L429.9 105.4L430.2 102.4L430.6 100.6L430.9 99.2L431.2 98.2L431.6 96.8L431.9 98.4L432.2 96.7L432.6 95.2L432.9 94.8L433.2 94.8L433.6 93.5L433.9 91.9L434.2 91.1L434.5 90.6L434.9 89.8L435.2 88.2L435.5 86.8L435.9 85.3L436.2 85.6L436.5 86.3L436.9 84.4L437.2 84.4L437.5 84.6L437.9 83.8L438.2 83.1L438.5 83.1L438.9 84.5L439.2 85.3L439.5 85.9L439.8 87.8L440.2 89.1L440.5 90.8L440.8 93.8L441.2 96.7L441.5 99.0L441.8 100.8L442.2 103.9L442.5 106.6L442.8 108.9L443.2 110.9L443.5 112.2L443.8 114.3L444.1 116.6L444.5 118.0L444.8 120.6L445.1 122.7L445.5 124.7L445.8 126.4L446.1 129.3L446.5 132.7L446.8 135.9L447.1 138.4L447.5 140.1L447.8 142.1L448.1 144.5L448.4 149.6L448.8 154.2L449.1 159.4L449.4 159.3L449.8 155.5L450.1 151.8L450.4 149.2L450.8 146.4L451.1 144.5L451.4 143.4L451.8 140.5L452.1 137.6L452.4 136.8L452.8 135.3L453.1 132.3L453.4 129.8L453.7 128.1L454.1 126.7L454.4 125.2L454.7 123.7L455.1 121.8L455.4 119.9L455.7 118.1L456.1 115.7L456.4 112.8L456.7 111.8L457.1 110.7L457.4 109.1L457.7 108.0L458.0 105.8L458.4 104.2L458.7 106.1L459.0 106.7L459.4 107.1L459.7 108.1L460.0 108.9L460.4 108.5L460.7 107.5L461.0 108.8L461.4 110.5L461.7 112.6L462.0 115.7L462.4 118.5L462.7 119.7L463.0 121.8L463.3 125.4L463.7 126.5L464.0 127.9L464.3 130.8L464.7 133.0L465.0 134.6L465.3 137.1L465.7 138.4L466.0 140.1L466.3 142.8L466.7 145.1L467.0 146.5L467.3 148.3L467.6 150.4L468.0 153.0L468.3 153.3L468.6 155.2L469.0 156.2L469.3 157.6L469.6 159.7L470.0 161.4L470.3 162.7L470.6 163.1L471.0 163.4L471.3 164.7L471.6 166.6L471.9 166.4L472.3 165.2L472.6 163.4L472.9 162.3L473.3 160.9L473.6 158.3L473.9 152.9L474.3 148.4L474.6 144.7L474.9 141.8L475.3 137.0L475.6 133.6L475.9 131.7L476.3 130.0L476.6 127.3L476.9 124.2L477.2 121.7L477.6 119.7L477.9 117.5L478.2 114.9L478.6 113.6L478.9 112.5L479.2 109.5L479.6 108.3L479.9 106.7L480.2 105.7L480.6 104.7L480.9 102.9L481.2 101.1L481.5 98.4L481.9 97.2L482.2 94.8L482.5 97.2L482.9 98.8L483.2 99.5L483.5 102.5L483.9 106.1L484.2 109.2L484.5 110.9L484.9 112.4L485.2 114.1L485.5 117.7L485.9 120.2L486.2 121.0L486.5 122.1L486.8 123.7L487.2 127.4L487.5 130.7L487.8 131.9L488.2 132.7L488.5 132.5L488.8 132.3L489.2 133.4L489.5 130.1L489.8 126.2L490.2 122.7L490.5 119.0L490.8 114.7L491.1 111.3L491.5 107.5L491.8 104.2L492.1 101.8L492.5 98.5L492.8 94.1L493.1 87.5L493.5 81.0L493.8 75.5L494.1 74.3L494.5 73.5L494.8 73.5L495.1 73.3L495.4 72.4L495.8 71.2L496.1 73.1L496.4 75.9L496.8 77.3L497.1 79.3L497.4 82.0L497.8 83.0L498.1 84.2L498.4 86.5L498.8 89.8L499.1 91.9L499.4 93.1L499.8 95.5L500.1 97.8L500.4 99.0L500.7 99.5L501.1 101.1L501.4 101.9L501.7 101.7L502.1 103.4L502.4 105.8L502.7 108.2L503.1 110.5L503.4 114.8L503.7 119.2L504.1 122.3L504.4 124.3L504.7 126.4L505.0 123.2L505.4 121.6L505.7 119.9L506.0 117.3L506.4 113.8L506.7 110.5L507.0 108.5L507.4 104.9L507.7 102.0L508.0 101.9L508.4 98.1L508.7 94.0L509.0 89.2L509.3 86.4L509.7 83.2L510.0 79.1L510.3 74.0L510.7 69.3L511.0 66.2L511.3 63.0L511.7 61.1L512.0 59.9L512.3 57.6L512.7 55.7L513.0 54.1L513.3 53.1L513.7 50.7L514.0 49.9L514.3 50.5L514.6 50.1L515.0 50.8L515.3 51.8L515.6 51.4L516.0 51.9L516.3 53.2L516.6 55.9L517.0 58.4L517.3 59.0L517.6 60.5L518.0 61.5L518.3 62.6L518.6 64.6L518.9 68.1L519.3 70.4L519.6 70.7L519.9 71.3L520.3 73.3L520.6 74.9L520.9 77.0L521.3 78.7L521.6 80.4L521.9 82.2L522.3 83.3L522.6 84.6L522.9 85.8L523.3 87.9L523.6 89.8L523.9 92.2L524.2 94.2L524.6 96.8L524.9 98.8L525.2 99.5L525.6 99.8L525.9 100.5L526.2 102.1L526.6 103.2L526.9 102.9L527.2 102.7L527.6 103.1L527.9 101.7L528.2 102.0L528.5 100.3L528.9 99.2L529.2 101.6L529.5 101.0L529.9 98.8L530.2 98.4L530.5 98.0L530.9 97.3L531.2 96.0L531.5 96.0L531.9 96.4L532.2 96.2L532.5 96.0L532.8 95.5L533.2 94.9L533.5 92.5L533.8 90.9L534.2 88.7L534.5 88.2L534.8 88.4L535.2 86.7L535.5 85.9L535.8 84.5L536.2 82.8L536.5 83.9L536.8 85.6L537.2 87.5L537.5 89.9L537.8 91.5L538.1 92.3L538.5 93.7L538.8 96.6L539.1 99.3L539.5 102.8L539.8 105.9L539.8 189.5Z" fill="#228b22"/>
<rect x="47.3" y="189.5" width="492.8" height="27.8" fill="#22b7ff"/>
<path d="M47.3 95.8L47.6 99.7L48.0 102.9L48.3 106.3L48.6 108.9L49.0 111.2L49.3 112.7L49.6 114.4L49.9 114.7L50.3 116.1L50.6 115.1L50.9 113.8L51.3 108.0L51.6 102.8L51.9 95.9L52.3 91.3L52.6 85.4L52.9 83.1L53.3 78.9L53.6 75.7L53.9 76.6L54.3 73.9L54.6 72.4L54.9 72.4L55.2 71.3L55.6 70.7L55.9 71.8L56.2 71.7L56.6 73.3L56.9 73.2L57.2 73.1L57.6 71.5L57.9 68.1L58.2 63.2L58.6 59.1L58.9 52.6L59.2 56.9L59.5 61.4L59.9 66.3L60.2 71.2L60.5 75.9L60.9 81.1L61.2 87.7L61.5 90.5L61.9 93.4L62.2 100.6L62.5 102.4L62.9 105.4L63.2 108.3L63.5 108.9L63.8 112.3L64.2 112.6L64.5 113.0L64.8 115.1L65.2 116.2L65.5 116.3L65.8 117.1L66.2 116.1L66.5 116.9L66.8 113.3L67.2 110.4L67.5 102.1L67.8 95.7L68.2 91.3L68.5 83.3L68.8 79.9L69.1 75.4L69.5 71.9L69.8 71.7L70.1 70.4L70.5 67.3L70.8 67.3L71.1 65.2L71.5 65.8L71.8 66.4L72.1 66.6L72.5 66.5L72.8 66.7L73.1 67.3L73.4 65.8L73.8 62.4L74.1 57.8L74.4 50.1L74.8 47.2L75.1 52.1L75.4 56.2L75.8 60.0L76.1 65.7L76.4 71.9L76.8 78.0L77.1 83.2L77.4 89.4L77.8 94.0L78.1 96.8L78.4 102.0L78.7 104.2L79.1 106.4L79.4 108.6L79.7 110.8L80.1 110.7L80.4 113.2L80.7 115.0L81.1 115.3L81.4 116.0L81.7 117.4L82.1 117.2L82.4 116.3L82.7 115.1L83.0 109.0L83.4 101.6L83.7 94.2L84.0 88.4L84.4 80.8L84.7 76.1L85.0 71.6L85.4 70.2L85.7 66.7L86.0 66.7L86.4 64.6L86.7 62.4L87.0 62.7L87.3 62.3L87.7 60.9L88.0 62.7L88.3 63.5L88.7 63.1L89.0 62.5L89.3 63.2L89.7 58.8L90.0 53.9L90.3 48.1L90.7 43.6L91.0 47.7L91.3 51.5L91.7 57.0L92.0 61.9L92.3 67.4L92.6 73.9L93.0 78.9L93.3 82.8L93.6 88.7L94.0 93.7L94.3 97.5L94.6 100.9L95.0 102.9L95.3 104.3L95.6 107.3L96.0 108.2L96.3 108.7L96.6 110.9L96.9 111.5L97.3 112.8L97.6 113.2L97.9 113.4L98.3 110.3L98.6 109.0L98.9 103.2L99.3 94.0L99.6 84.6L99.9 75.8L100.3 68.0L100.6 61.2L100.9 57.1L101.2 53.5L101.6 51.6L101.9 49.6L102.2 49.3L102.6 47.1L102.9 45.7L103.2 45.4L103.6 46.4L103.9 45.3L104.2 47.3L104.6 47.3L104.9 47.2L105.2 45.1L105.6 42.5L105.9 40.4L106.2 36.4L106.5 33.1L106.9 37.4L107.2 42.4L107.5 47.3L107.9 53.2L108.2 58.5L108.5 63.4L108.9 70.8L109.2 74.0L109.5 79.5L109.9 84.8L110.2 88.3L110.5 92.7L110.8 95.8L111.2 97.3L111.5 98.5L111.8 99.9L112.2 101.5L112.5 102.1L112.8 104.7L113.2 103.4L113.5 105.2L113.8 105.2L114.2 103.8L114.5 101.5L114.8 96.3L115.2 87.6L115.5 78.4L115.8 70.5L116.1 63.0L116.5 59.1L116.8 54.0L117.1 51.6L117.5 48.1L117.8 48.3L118.1 44.4L118.5 44.4L118.8 43.3L119.1 42.2L119.5 41.4L119.8 42.9L120.1 43.3L120.4 43.9L120.8 43.2L121.1 41.3L121.4 40.8L121.8 37.5L122.1 35.9L122.4 34.5L122.8 38.9L123.1 42.7L123.4 46.1L123.8 52.6L124.1 56.4L124.4 61.7L124.7 66.9L125.1 73.1L125.4 76.1L125.7 79.4L126.1 84.2L126.4 86.2L126.7 90.5L127.1 89.9L127.4 92.5L127.7 92.7L128.1 95.8L128.4 95.0L128.7 96.6L129.1 96.3L129.4 98.0L129.7 98.2L130.0 95.1L130.4 94.4L130.7 89.1L131.0 80.5L131.4 72.8L131.7 63.9L132.0 56.2L132.4 53.0L132.7 48.8L133.0 44.3L133.4 41.9L133.7 40.6L134.0 38.9L134.3 39.0L134.7 37.3L135.0 37.9L135.3 37.6L135.7 36.8L136.0 38.9L136.3 36.9L136.7 38.4L137.0 37.0L137.3 34.6L137.7 31.7L138.0 30.1L138.3 29.9L138.7 32.9L139.0 36.7L139.3 42.5L139.6 48.3L140.0 52.6L140.3 58.7L140.6 65.2L141.0 69.5L141.3 74.7L141.6 78.1L142.0 82.4L142.3 84.5L142.6 87.5L143.0 90.9L143.3 91.2L143.6 92.3L143.9 94.0L144.3 94.6L144.6 96.8L144.9 97.5L145.3 96.7L145.6 98.5L145.9 98.1L146.3 93.1L146.6 89.1L146.9 80.5L147.3 73.0L147.6 65.7L147.9 58.2L148.2 52.8L148.6 47.4L148.9 46.8L149.2 42.2L149.6 42.0L149.9 40.4L150.2 38.0L150.6 37.3L150.9 38.0L151.2 35.3L151.6 38.1L151.9 38.3L152.2 38.3L152.6 37.5L152.9 36.9L153.2 34.3L153.5 33.2L153.9 29.2L154.2 28.9L154.5 32.7L154.9 35.7L155.2 41.4L155.5 47.1L155.9 51.3L156.2 58.2L156.5 64.6L156.9 68.5L157.2 74.7L157.5 77.3L157.8 81.5L158.2 85.5L158.5 88.4L158.8 89.6L159.2 91.4L159.5 93.5L159.8 93.9L160.2 96.7L160.5 96.7L160.8 97.1L161.2 97.5L161.5 97.5L161.8 97.6L162.2 93.8L162.5 89.5L162.8 82.4L163.1 75.4L163.5 68.6L163.8 60.8L164.1 57.3L164.5 52.1L164.8 49.2L165.1 47.0L165.5 45.2L165.8 45.1L166.1 44.6L166.5 42.0L166.8 42.2L167.1 41.4L167.4 43.0L167.8 43.0L168.1 43.2L168.4 43.3L168.8 41.8L169.1 40.4L169.4 38.4L169.8 35.9L170.1 33.9L170.4 38.6L170.8 41.2L171.1 46.5L171.4 50.8L171.7 56.7L172.1 61.8L172.4 65.3L172.7 71.3L173.1 76.4L173.4 79.9L173.7 83.4L174.1 84.2L174.4 88.1L174.7 89.1L175.1 92.1L175.4 92.4L175.7 93.4L176.1 93.6L176.4 96.3L176.7 95.8L177.0 96.4L177.4 97.8L177.7 96.3L178.0 94.6L178.4 92.6L178.7 85.1L179.0 79.7L179.4 75.5L179.7 71.3L180.0 66.1L180.4 63.7L180.7 61.6L181.0 59.7L181.3 60.0L181.7 58.1L182.0 58.0L182.3 57.1L182.7 56.9L183.0 56.6L183.3 56.4L183.7 57.7L184.0 57.9L184.3 58.0L184.7 56.4L185.0 54.2L185.3 49.5L185.7 44.0L186.0 40.6L186.3 44.3L186.6 49.1L187.0 51.8L187.3 57.8L187.6 63.9L188.0 69.8L188.3 73.8L188.6 79.9L189.0 85.0L189.3 88.9L189.6 93.1L190.0 95.0L190.3 98.8L190.6 99.1L190.9 102.9L191.3 103.1L191.6 105.7L191.9 104.8L192.3 107.3L192.6 107.6L192.9 107.4L193.3 107.6L193.6 108.3L193.9 105.4L194.3 101.7L194.6 93.6L194.9 86.8L195.2 80.7L195.6 74.7L195.9 70.4L196.2 66.5L196.6 63.5L196.9 60.7L197.2 61.8L197.6 59.3L197.9 58.5L198.2 56.8L198.6 57.5L198.9 56.7L199.2 58.1L199.6 57.7L199.9 58.1L200.2 58.3L200.5 56.4L200.9 53.6L201.2 49.9L201.5 42.9L201.9 39.2L202.2 44.0L202.5 48.2L202.9 53.0L203.2 60.8L203.5 66.7L203.9 71.2L204.2 77.4L204.5 84.2L204.8 89.9L205.2 94.1L205.5 98.6L205.8 102.4L206.2 104.4L206.5 107.2L206.8 109.1L207.2 109.1L207.5 111.8L207.8 112.5L208.2 113.2L208.5 113.5L208.8 114.9L209.1 115.1L209.5 114.5L209.8 109.9L210.1 105.4L210.5 98.3L210.8 89.2L211.1 81.2L211.5 74.0L211.8 68.1L212.1 63.5L212.5 62.3L212.8 59.5L213.1 58.8L213.5 56.2L213.8 55.0L214.1 52.0L214.4 53.5L214.8 54.7L215.1 54.7L215.4 55.1L215.8 56.0L216.1 55.7L216.4 53.5L216.8 50.8L217.1 48.0L217.4 44.7L217.8 41.1L218.1 46.1L218.4 50.8L218.7 56.0L219.1 61.3L219.4 66.0L219.7 73.3L220.1 78.0L220.4 82.4L220.7 88.2L221.1 92.0L221.4 97.3L221.7 98.4L222.1 101.4L222.4 103.8L222.7 107.0L223.1 107.9L223.4 108.0L223.7 108.5L224.0 110.6L224.4 110.4L224.7 112.2L225.0 112.3L225.4 111.1L225.7 108.0L226.0 104.0L226.4 94.0L226.7 85.4L227.0 79.7L227.4 72.4L227.7 66.3L228.0 62.1L228.3 60.8L228.7 56.1L229.0 55.0L229.3 53.9L229.7 50.9L230.0 51.0L230.3 51.3L230.7 50.4L231.0 52.1L231.3 52.9L231.7 52.1L232.0 52.7L232.3 50.8L232.6 46.4L233.0 42.7L233.3 37.7L233.6 34.2L234.0 38.1L234.3 41.7L234.6 47.0L235.0 51.0L235.3 58.2L235.6 63.0L236.0 69.0L236.3 72.9L236.6 76.9L237.0 80.2L237.3 85.7L237.6 87.8L237.9 90.7L238.3 92.6L238.6 94.6L238.9 95.1L239.3 97.6L239.6 97.3L239.9 98.4L240.3 99.3L240.6 100.0L240.9 100.7L241.3 97.4L241.6 97.3L241.9 90.8L242.2 84.5L242.6 78.1L242.9 72.4L243.2 64.7L243.6 60.0L243.9 57.7L244.2 55.2L244.6 52.2L244.9 51.4L245.2 48.9L245.6 49.7L245.9 47.9L246.2 48.8L246.6 46.3L246.9 49.0L247.2 50.8L247.5 49.4L247.9 49.4L248.2 46.4L248.5 46.2L248.9 43.5L249.2 40.2L249.5 37.7L249.9 42.7L250.2 46.3L250.5 51.0L250.9 56.9L251.2 62.0L251.5 67.3L251.8 73.3L252.2 76.5L252.5 83.0L252.8 85.2L253.2 89.4L253.5 92.8L253.8 95.9L254.2 97.2L254.5 98.4L254.8 99.5L255.2 101.2L255.5 101.7L255.8 103.8L256.1 103.7L256.5 105.4L256.8 104.2L257.1 103.5L257.5 101.3L257.8 95.4L258.1 88.0L258.5 82.7L258.8 73.9L259.1 68.1L259.5 61.8L259.8 56.2L260.1 56.1L260.5 53.4L260.8 52.2L261.1 50.3L261.4 49.0L261.8 47.4L262.1 48.7L262.4 46.6L262.8 49.2L263.1 49.2L263.4 48.6L263.8 48.9L264.1 48.4L264.4 46.5L264.8 43.8L265.1 40.6L265.4 37.9L265.7 43.3L266.1 46.1L266.4 50.1L266.7 55.1L267.1 60.2L267.4 64.5L267.7 70.2L268.1 74.3L268.4 78.9L268.7 81.8L269.1 88.1L269.4 88.4L269.7 92.0L270.1 93.5L270.4 95.6L270.7 97.5L271.0 97.7L271.4 98.8L271.7 98.9L272.0 100.7L272.4 99.1L272.7 100.4L273.0 99.6L273.4 97.2L273.7 92.1L274.0 84.3L274.4 75.8L274.7 68.3L275.0 61.2L275.3 57.3L275.7 51.7L276.0 49.8L276.3 46.6L276.7 44.0L277.0 43.3L277.3 42.8L277.7 42.5L278.0 42.1L278.3 41.9L278.7 41.2L279.0 43.1L279.3 42.5L279.6 43.0L280.0 40.7L280.3 38.1L280.6 37.0L281.0 33.9L281.3 32.6L281.6 36.7L282.0 43.8L282.3 49.6L282.6 56.9L283.0 64.0L283.3 69.9L283.6 75.5L284.0 84.2L284.3 89.1L284.6 94.9L284.9 101.2L285.3 104.2L285.6 107.7L285.9 110.2L286.3 110.7L286.6 115.1L286.9 115.3L287.3 116.7L287.6 118.6L287.9 118.7L288.3 118.8L288.6 119.9L288.9 118.7L289.2 116.1L289.6 113.3L289.9 103.6L290.2 95.8L290.6 90.3L290.9 83.8L291.2 81.2L291.6 76.0L291.9 74.3L292.2 72.0L292.6 69.6L292.9 69.5L293.2 67.9L293.5 68.1L293.9 66.6L294.2 66.1L294.5 67.5L294.9 68.3L295.2 66.5L295.5 68.7L295.9 66.9L296.2 64.6L296.5 60.0L296.9 55.6L297.2 54.4L297.5 59.2L297.9 63.6L298.2 67.1L298.5 74.0L298.8 78.0L299.2 83.6L299.5 90.1L299.8 94.6L300.2 99.5L300.5 103.1L300.8 109.1L301.2 110.3L301.5 114.2L301.8 116.2L302.2 117.4L302.5 119.0L302.8 120.9L303.1 122.4L303.5 123.0L303.8 121.8L304.1 121.9L304.5 123.3L304.8 121.9L305.1 120.7L305.5 115.7L305.8 108.2L306.1 101.9L306.5 95.4L306.8 88.2L307.1 84.2L307.5 80.4L307.8 77.2L308.1 75.5L308.4 73.3L308.8 72.7L309.1 71.8L309.4 70.4L309.8 70.3L310.1 70.4L310.4 71.0L310.8 71.1L311.1 71.1L311.4 70.7L311.8 71.1L312.1 66.1L312.4 60.0L312.7 52.5L313.1 47.5L313.4 51.7L313.7 55.4L314.1 60.5L314.4 67.2L314.7 71.2L315.1 77.1L315.4 84.0L315.7 88.0L316.1 94.1L316.4 97.1L316.7 102.3L317.0 105.6L317.4 108.2L317.7 110.2L318.0 111.3L318.4 112.8L318.7 114.3L319.0 115.8L319.4 119.0L319.7 116.9L320.0 118.8L320.4 117.7L320.7 115.8L321.0 113.3L321.4 107.9L321.7 98.4L322.0 89.1L322.3 81.1L322.7 72.9L323.0 67.6L323.3 60.7L323.7 58.8L324.0 55.3L324.3 54.4L324.7 52.5L325.0 51.3L325.3 49.5L325.7 48.9L326.0 48.9L326.3 50.6L326.6 51.7L327.0 50.0L327.3 51.4L327.6 49.3L328.0 46.6L328.3 44.7L328.6 42.6L329.0 41.9L329.3 44.4L329.6 50.7L330.0 55.5L330.3 62.0L330.6 68.9L331.0 74.8L331.3 79.7L331.6 84.9L331.9 90.7L332.3 95.8L332.6 100.5L332.9 102.8L333.3 106.6L333.6 106.8L333.9 108.5L334.3 108.9L334.6 111.7L334.9 113.9L335.3 115.2L335.6 117.5L335.9 116.0L336.2 116.2L336.6 114.3L336.9 111.9L337.2 106.9L337.6 99.2L337.9 91.0L338.2 83.4L338.6 78.1L338.9 73.0L339.2 69.0L339.6 64.5L339.9 62.4L340.2 61.3L340.5 61.2L340.9 59.1L341.2 58.2L341.5 57.7L341.9 57.6L342.2 58.0L342.5 59.5L342.9 58.6L343.2 59.0L343.5 57.7L343.9 55.3L344.2 52.3L344.5 47.7L344.9 46.0L345.2 50.0L345.5 55.3L345.8 61.0L346.2 65.3L346.5 72.7L346.8 77.5L347.2 83.7L347.5 90.4L347.8 95.1L348.2 99.3L348.5 104.1L348.8 107.3L349.2 109.0L349.5 111.5L349.8 113.0L350.1 115.0L350.5 116.0L350.8 117.9L351.1 118.5L351.5 118.6L351.8 119.5L352.1 120.3L352.5 119.5L352.8 115.7L353.1 110.0L353.5 101.6L353.8 93.1L354.1 84.3L354.5 75.2L354.8 71.9L355.1 66.2L355.4 63.6L355.8 63.0L356.1 59.5L356.4 58.4L356.8 55.7L357.1 55.5L357.4 55.5L357.8 54.8L358.1 55.5L358.4 57.0L358.8 56.7L359.1 57.6L359.4 54.8L359.7 52.7L360.1 49.7L360.4 48.0L360.7 47.0L361.1 50.5L361.4 55.3L361.7 59.5L362.1 65.6L362.4 72.2L362.7 77.6L363.1 83.4L363.4 88.4L363.7 93.4L364.0 98.4L364.4 103.6L364.7 105.5L365.0 109.3L365.4 109.6L365.7 111.5L366.0 114.1L366.4 113.9L366.7 114.8L367.0 116.4L367.4 115.8L367.7 116.1L368.0 118.8L368.4 116.1L368.7 113.9L369.0 109.0L369.3 100.8L369.7 94.2L370.0 87.2L370.3 80.4L370.7 75.8L371.0 70.7L371.3 69.3L371.7 66.7L372.0 64.2L372.3 63.2L372.7 61.7L373.0 62.1L373.3 61.1L373.6 60.6L374.0 61.1L374.3 62.4L374.6 61.3L375.0 62.0L375.3 60.2L375.6 56.5L376.0 50.7L376.3 45.2L376.6 39.4L377.0 44.0L377.3 48.8L377.6 53.5L378.0 58.9L378.3 64.2L378.6 69.9L378.9 76.0L379.3 80.6L379.6 86.1L379.9 89.6L380.3 94.7L380.6 99.0L380.9 99.4L381.3 102.0L381.6 104.7L381.9 105.4L382.3 107.3L382.6 106.3L382.9 108.5L383.2 110.4L383.6 109.4L383.9 110.5L384.2 107.9L384.6 107.6L384.9 103.8L385.2 94.9L385.6 88.0L385.9 81.6L386.2 76.3L386.6 70.3L386.9 65.1L387.2 65.5L387.5 61.2L387.9 61.0L388.2 57.7L388.5 57.9L388.9 57.3L389.2 56.1L389.5 56.3L389.9 57.8L390.2 57.7L390.5 58.6L390.9 59.5L391.2 55.2L391.5 55.0L391.9 52.6L392.2 48.8L392.5 48.0L392.8 51.1L393.2 54.0L393.5 57.5L393.8 61.5L394.2 65.1L394.5 70.5L394.8 74.2L395.2 77.9L395.5 82.9L395.8 85.2L396.2 89.3L396.5 90.0L396.8 92.6L397.1 94.3L397.5 96.6L397.8 96.7L398.1 98.4L398.5 98.2L398.8 99.5L399.1 100.4L399.5 99.5L399.8 100.0L400.1 100.2L400.5 97.3L400.8 95.0L401.1 89.9L401.4 84.4L401.8 80.4L402.1 75.6L402.4 72.4L402.8 68.1L403.1 66.6L403.4 66.3L403.8 64.1L404.1 64.3L404.4 63.2L404.8 62.1L405.1 62.3L405.4 60.6L405.8 62.7L406.1 64.3L406.4 62.6L406.7 63.7L407.1 62.5L407.4 61.2L407.7 53.8L408.1 48.5L408.4 44.3L408.7 47.4L409.1 50.6L409.4 55.4L409.7 59.1L410.1 64.7L410.4 68.9L410.7 72.4L411.0 76.7L411.4 81.8L411.7 83.9L412.0 87.6L412.4 90.3L412.7 91.6L413.0 93.6L413.4 95.8L413.7 96.6L414.0 95.7L414.4 98.8L414.7 98.4L415.0 98.5L415.4 98.9L415.7 100.6L416.0 99.1L416.3 96.7L416.7 92.2L417.0 87.0L417.3 81.2L417.7 74.2L418.0 68.6L418.3 65.4L418.7 62.4L419.0 59.9L419.3 58.2L419.7 56.6L420.0 56.9L420.3 55.0L420.6 54.3L421.0 54.7L421.3 53.5L421.6 54.4L422.0 55.4L422.3 54.8L422.6 56.1L423.0 53.7L423.3 50.7L423.6 46.9L424.0 41.7L424.3 40.0L424.6 44.0L424.9 47.0L425.3 51.1L425.6 55.1L425.9 61.3L426.3 67.6L426.6 71.6L426.9 77.3L427.3 82.3L427.6 83.3L427.9 88.8L428.3 91.1L428.6 93.8L428.9 94.6L429.3 97.3L429.6 97.9L429.9 100.8L430.2 102.0L430.6 101.0L430.9 101.4L431.2 102.5L431.6 103.2L431.9 102.0L432.2 99.8L432.6 93.0L432.9 85.2L433.2 76.9L433.6 69.6L433.9 61.7L434.2 57.1L434.5 52.0L434.9 50.8L435.2 47.2L435.5 44.5L435.9 44.8L436.2 43.3L436.5 41.3L436.9 41.0L437.2 40.9L437.5 43.4L437.9 42.8L438.2 44.0L438.5 43.8L438.9 40.9L439.2 40.4L439.5 37.9L439.8 34.2L440.2 34.9L440.5 38.7L440.8 44.1L441.2 48.1L441.5 53.6L441.8 58.4L442.2 64.0L442.5 68.9L442.8 73.2L443.2 78.3L443.5 82.5L443.8 86.3L444.1 87.7L444.5 90.6L444.8 91.5L445.1 93.1L445.5 95.4L445.8 96.0L446.1 98.4L446.5 96.8L446.8 98.0L447.1 99.4L447.5 100.5L447.8 98.3L448.1 97.1L448.4 91.2L448.8 82.0L449.1 74.3L449.4 67.5L449.8 59.2L450.1 55.8L450.4 50.0L450.8 48.2L451.1 46.0L451.4 43.6L451.8 43.1L452.1 39.9L452.4 40.4L452.8 38.3L453.1 40.1L453.4 39.9L453.7 42.0L454.1 42.1L454.4 41.1L454.7 38.9L455.1 39.3L455.4 36.1L455.7 35.8L456.1 34.5L456.4 38.3L456.7 42.6L457.1 48.7L457.4 51.8L457.7 57.9L458.0 64.1L458.4 69.9L458.7 75.2L459.0 79.7L459.4 82.5L459.7 87.2L460.0 90.5L460.4 92.8L460.7 93.0L461.0 96.0L461.4 97.6L461.7 97.6L462.0 99.2L462.4 100.5L462.7 101.4L463.0 102.6L463.3 102.7L463.7 101.2L464.0 98.6L464.3 93.6L464.7 86.1L465.0 79.0L465.3 72.5L465.7 66.9L466.0 63.3L466.3 57.8L466.7 56.0L467.0 53.6L467.3 52.0L467.6 51.3L468.0 50.1L468.3 48.3L468.6 47.9L469.0 48.2L469.3 48.2L469.6 49.5L470.0 50.1L470.3 49.3L470.6 46.4L471.0 46.5L471.3 42.9L471.6 39.9L471.9 38.3L472.3 44.3L472.6 47.4L472.9 53.7L473.3 60.1L473.6 66.2L473.9 71.7L474.3 78.3L474.6 83.8L474.9 88.2L475.3 94.2L475.6 99.0L475.9 100.8L476.3 103.9L476.6 105.6L476.9 109.0L477.2 109.0L477.6 111.0L477.9 111.2L478.2 114.5L478.6 114.0L478.9 114.8L479.2 116.2L479.6 114.5L479.9 110.6L480.2 106.7L480.6 99.0L480.9 90.0L481.2 82.8L481.5 75.8L481.9 72.4L482.2 67.2L482.5 64.1L482.9 62.9L483.2 61.5L483.5 59.0L483.9 57.3L484.2 58.0L484.5 58.7L484.9 57.6L485.2 58.2L485.5 58.5L485.9 57.9L486.2 58.5L486.5 57.1L486.8 54.0L487.2 51.0L487.5 46.0L487.8 43.5L488.2 45.6L488.5 51.7L488.8 57.8L489.2 63.9L489.5 69.5L489.8 76.3L490.2 81.7L490.5 87.0L490.8 91.1L491.1 96.5L491.5 101.3L491.8 104.6L492.1 107.5L492.5 108.6L492.8 110.6L493.1 111.2L493.5 113.9L493.8 113.9L494.1 115.5L494.5 116.2L494.8 118.1L495.1 118.1L495.4 115.6L495.8 112.6L496.1 108.5L496.4 100.4L496.8 93.6L497.1 86.7L497.4 80.1L497.8 74.4L498.1 70.2L498.4 68.4L498.8 66.2L499.1 64.1L499.4 62.9L499.8 62.5L500.1 59.6L500.4 60.3L500.7 60.2L501.1 60.1L501.4 61.2L501.7 62.0L502.1 61.6L502.4 61.0L502.7 59.0L503.1 57.8L503.4 52.5L503.7 53.1L504.1 55.3L504.4 60.9L504.7 65.6L505.0 70.6L505.4 75.9L505.7 81.3L506.0 86.0L506.4 91.9L506.7 96.4L507.0 101.7L507.4 105.0L507.7 108.1L508.0 111.4L508.4 112.9L508.7 114.6L509.0 115.8L509.3 117.1L509.7 118.7L510.0 120.0L510.3 119.4L510.7 121.5L511.0 121.3L511.3 118.8L511.7 119.5L512.0 113.9L512.3 106.3L512.7 101.2L513.0 92.3L513.3 90.0L513.7 83.2L514.0 79.2L514.3 77.6L514.6 76.5L515.0 74.8L515.3 74.4L515.6 72.3L516.0 72.6L516.3 71.8L516.6 70.7L517.0 72.9L517.3 73.1L517.6 72.7L518.0 73.8L518.3 70.5L518.6 68.2L518.9 65.2L519.3 59.1L519.6 55.9L519.9 59.2L520.3 62.4L520.6 66.7L520.9 70.1L521.3 75.9L521.6 79.3L521.9 84.6L522.3 88.0L522.6 93.0L522.9 96.5L523.3 100.4L523.6 101.5L523.9 103.5L524.2 104.1L524.6 106.1L524.9 108.0L525.2 109.5L525.6 109.9L525.9 111.1L526.2 110.4L526.6 111.2L526.9 112.8L527.2 111.7L527.6 107.8L527.9 104.0L528.2 97.2L528.5 89.0L528.9 83.7L529.2 77.2L529.5 73.0L529.9 69.8L530.2 65.7L530.5 65.0L530.9 63.2L531.2 62.0L531.5 59.9L531.9 59.4L532.2 59.1L532.5 60.0L532.8 59.7L533.2 61.5L533.5 60.2L533.8 60.2L534.2 58.9L534.5 53.7L534.8 49.4L535.2 43.1L535.5 38.7L535.8 43.2L536.2 47.2L536.5 51.8L536.8 59.3L537.2 63.5L537.5 69.7L537.8 75.3L538.1 80.7L538.5 87.0L538.8 91.3L539.1 93.6L539.5 97.7L539.8 101.7" fill="none" stroke="#000" stroke-width="1.45" stroke-linejoin="round"/>
<path d="M47.3 8.3V217.9M46.7 217.3H540.4M43.5 217.30H47.3M44.3 203.40H47.3M44.3 189.50H47.3M44.3 175.60H47.3M44.3 161.70H47.3M43.5 147.80H47.3M44.3 133.90H47.3M44.3 120.00H47.3M44.3 106.10H47.3M44.3 92.20H47.3M43.5 78.30H47.3M44.3 64.40H47.3M44.3 50.50H47.3M44.3 36.60H47.3M44.3 22.70H47.3M43.5 8.80H47.3M47.30 217.3V220.9M63.72 217.3V220.9M80.13 217.3V220.9M96.55 217.3V220.9M112.97 217.3V220.9M129.38 217.3V220.9M145.80 217.3V220.9M162.22 217.3V220.9M178.63 217.3V220.9M195.05 217.3V220.9M211.47 217.3V220.9M227.88 217.3V220.9M244.30 217.3V220.9M260.72 217.3V220.9M277.13 217.3V220.9M293.55 217.3V220.9M309.97 217.3V220.9M326.38 217.3V220.9M342.80 217.3V220.9M359.22 217.3V220.9M375.63 217.3V220.9M392.05 217.3V220.9M408.47 217.3V220.9M424.88 217.3V220.9M441.30 217.3V220.9M457.72 217.3V220.9M474.13 217.3V220.9M490.55 217.3V220.9M506.97 217.3V220.9M523.38 217.3V220.9M539.80 217.3V220.9" stroke="#000" stroke-width="1.5" fill="none"/>
<text x="35.8" y="220.8" text-anchor="end" font-family="Liberation Sans, Arial, sans-serif" font-weight="bold" font-size="10.75" textLength="6.0" lengthAdjust="spacingAndGlyphs">0</text>
<text x="35.8" y="151.3" text-anchor="end" font-family="Liberation Sans, Arial, sans-serif" font-weight="bold" font-size="10.75" textLength="12.0" lengthAdjust="spacingAndGlyphs">50</text>
<text x="35.8" y="81.8" text-anchor="end" font-family="Liberation Sans, Arial, sans-serif" font-weight="bold" font-size="10.75" textLength="18.0" lengthAdjust="spacingAndGlyphs">100</text>
<text x="35.8" y="12.3" text-anchor="end" font-family="Liberation Sans, Arial, sans-serif" font-weight="bold" font-size="10.75" textLength="18.0" lengthAdjust="spacingAndGlyphs">150</text>
<text x="47.3" y="237.8" text-anchor="middle" font-family="Liberation Sans, Arial, sans-serif" font-weight="bold" font-size="10.75" textLength="11.6" lengthAdjust="spacingAndGlyphs">01</text>
<text x="96.5" y="237.8" text-anchor="middle" font-family="Liberation Sans, Arial, sans-serif" font-weight="bold" font-size="10.75" textLength="11.6" lengthAdjust="spacingAndGlyphs">04</text>
<text x="145.8" y="237.8" text-anchor="middle" font-family="Liberation Sans, Arial, sans-serif" font-weight="bold" font-size="10.75" textLength="11.6" lengthAdjust="spacingAndGlyphs">07</text>
<text x="195.0" y="237.8" text-anchor="middle" font-family="Liberation Sans, Arial, sans-serif" font-weight="bold" font-size="10.75" textLength="11.6" lengthAdjust="spacingAndGlyphs">10</text>
<text x="244.3" y="237.8" text-anchor="middle" font-family="Liberation Sans, Arial, sans-serif" font-weight="bold" font-size="10.75" textLength="11.6" lengthAdjust="spacingAndGlyphs">13</text>
<text x="293.5" y="237.8" text-anchor="middle" font-family="Liberation Sans, Arial, sans-serif" font-weight="bold" font-size="10.75" textLength="11.6" lengthAdjust="spacingAndGlyphs">16</text>
<text x="342.8" y="237.8" text-anchor="middle" font-family="Liberation Sans, Arial, sans-serif" font-weight="bold" font-size="10.75" textLength="11.6" lengthAdjust="spacingAndGlyphs">19</text>
<text x="392.0" y="237.8" text-anchor="middle" font-family="Liberation Sans, Arial, sans-serif" font-weight="bold" font-size="10.75" textLength="11.6" lengthAdjust="spacingAndGlyphs">22</text>
<text x="441.3" y="237.8" text-anchor="middle" font-family="Liberation Sans, Arial, sans-serif" font-weight="bold" font-size="10.75" textLength="11.6" lengthAdjust="spacingAndGlyphs">25</text>
<text x="490.5" y="237.8" text-anchor="middle" font-family="Liberation Sans, Arial, sans-serif" font-weight="bold" font-size="10.75" textLength="11.6" lengthAdjust="spacingAndGlyphs">28</text>
<text x="539.8" y="237.8" text-anchor="middle" font-family="Liberation Sans, Arial, sans-serif" font-weight="bold" font-size="10.75" textLength="11.6" lengthAdjust="spacingAndGlyphs">31</text>
<text transform="translate(12.3 113.6) rotate(-90)" text-anchor="middle" font-family="Liberation Sans, Arial, sans-serif" font-weight="bold" font-size="10.75" textLength="61" lengthAdjust="spacingAndGlyphs">Power (GW)</text>
<text x="116.4" y="23.4" text-anchor="start" fill="#000" font-family="Liberation Sans, Arial, sans-serif" font-weight="bold" font-size="10.75" textLength="42.2" lengthAdjust="spacingAndGlyphs">Demand</text>
<text x="326.6" y="20.6" text-anchor="start" fill="#fbb822" font-family="Liberation Sans, Arial, sans-serif" font-weight="bold" font-size="10.75" textLength="41.4" lengthAdjust="spacingAndGlyphs">Solar PV</text>
<text x="86.6" y="182.6" text-anchor="start" fill="#fff" font-family="Liberation Sans, Arial, sans-serif" font-weight="bold" font-size="10.75" textLength="26.0" lengthAdjust="spacingAndGlyphs">Wind</text>
<text x="87.0" y="210.0" text-anchor="start" fill="#fff" font-family="Liberation Sans, Arial, sans-serif" font-weight="bold" font-size="10.75" textLength="86.4" lengthAdjust="spacingAndGlyphs">Nuclear baseload</text>
<text x="293.5" y="253.0" text-anchor="middle" fill="#000" font-family="Liberation Sans, Arial, sans-serif" font-weight="bold" font-size="10.75" textLength="67.0" lengthAdjust="spacingAndGlyphs">January 2050</text>
<path d="M47.3 467.60H539.8M47.3 453.70H539.8M47.3 439.80H539.8M47.3 425.90H539.8M47.3 412.00H539.8M47.3 398.10H539.8M47.3 384.20H539.8M47.3 370.30H539.8M47.3 356.40H539.8M47.3 342.50H539.8M47.3 328.60H539.8M47.3 314.70H539.8M47.3 300.80H539.8M47.3 286.90H539.8M47.3 273.00H539.8M63.72 273.0V481.5M80.13 273.0V481.5M96.55 273.0V481.5M112.97 273.0V481.5M129.38 273.0V481.5M145.80 273.0V481.5M162.22 273.0V481.5M178.63 273.0V481.5M195.05 273.0V481.5M211.47 273.0V481.5M227.88 273.0V481.5M244.30 273.0V481.5M260.72 273.0V481.5M277.13 273.0V481.5M293.55 273.0V481.5M309.97 273.0V481.5M326.38 273.0V481.5M342.80 273.0V481.5M359.22 273.0V481.5M375.63 273.0V481.5M392.05 273.0V481.5M408.47 273.0V481.5M424.88 273.0V481.5M441.30 273.0V481.5M457.72 273.0V481.5M474.13 273.0V481.5M490.55 273.0V481.5M506.97 273.0V481.5M523.38 273.0V481.5M539.80 273.0V481.5" stroke="#e0e0e0" stroke-width="0.65" fill="none"/>
<path d="M47.3 453.7L47.3 423.4L47.6 422.6L48.0 421.3L48.3 420.7L48.6 421.4L49.0 422.7L49.3 422.8L49.6 422.6L49.9 422.9L50.3 422.6L50.6 421.1L50.9 419.3L51.3 415.8L51.6 411.3L51.9 407.3L52.3 403.1L52.6 398.1L52.9 392.7L53.3 389.1L53.6 386.1L53.9 380.8L54.3 377.0L54.6 375.8L54.9 374.3L55.2 372.7L55.6 371.7L55.9 372.8L56.2 373.3L56.6 375.0L56.9 378.3L57.2 382.5L57.6 388.3L57.9 394.9L58.2 401.6L58.6 409.1L58.9 416.1L59.2 423.0L59.5 427.7L59.9 432.9L60.2 438.3L60.5 440.8L60.9 442.2L61.2 443.6L61.5 444.5L61.9 445.9L62.2 447.4L62.5 446.4L62.9 448.5L63.2 450.1L63.5 449.3L63.8 449.3L64.2 450.5L64.5 451.1L64.8 450.1L65.2 450.6L65.5 451.3L65.8 452.0L66.2 452.2L66.5 452.1L66.8 449.6L67.2 446.3L67.5 441.9L67.8 437.4L68.2 432.9L68.5 427.8L68.8 422.8L69.1 418.9L69.5 413.1L69.8 408.0L70.1 405.0L70.5 401.4L70.8 399.1L71.1 397.4L71.5 396.5L71.8 396.1L72.1 396.0L72.5 397.8L72.8 400.0L73.1 400.6L73.4 404.2L73.8 408.1L74.1 410.9L74.4 415.0L74.8 420.7L75.1 424.1L75.4 428.3L75.8 431.0L76.1 433.2L76.4 434.7L76.8 434.6L77.1 434.3L77.4 433.4L77.8 432.6L78.1 432.3L78.4 432.4L78.7 431.5L79.1 429.7L79.4 429.3L79.7 429.6L80.1 429.0L80.4 428.6L80.7 428.2L81.1 428.5L81.4 429.0L81.7 429.1L82.1 428.8L82.4 428.5L82.7 425.4L83.0 422.9L83.4 418.0L83.7 412.6L84.0 406.7L84.4 400.2L84.7 395.9L85.0 391.6L85.4 386.8L85.7 380.7L86.0 376.9L86.4 373.4L86.7 370.4L87.0 367.0L87.3 366.5L87.7 366.0L88.0 365.9L88.3 365.5L88.7 366.9L89.0 372.2L89.3 377.1L89.7 382.0L90.0 387.4L90.3 392.5L90.7 396.6L91.0 399.6L91.3 402.8L91.7 407.1L92.0 409.3L92.3 410.0L92.6 409.9L93.0 410.3L93.3 410.5L93.6 410.4L94.0 411.7L94.3 414.2L94.6 414.5L95.0 414.4L95.3 415.0L95.6 416.7L96.0 418.9L96.3 420.1L96.6 420.6L96.9 421.3L97.3 421.8L97.6 422.5L97.9 424.5L98.3 425.7L98.6 425.6L98.9 422.8L99.3 420.9L99.6 419.3L99.9 416.2L100.3 412.8L100.6 409.2L100.9 405.6L101.2 401.7L101.6 397.7L101.9 394.8L102.2 391.8L102.6 388.6L102.9 386.1L103.2 384.4L103.6 383.7L103.9 383.3L104.2 382.7L104.6 382.9L104.9 382.9L105.2 383.2L105.6 385.0L105.9 387.8L106.2 389.8L106.5 391.7L106.9 392.5L107.2 394.0L107.5 395.3L107.9 395.1L108.2 393.6L108.5 391.8L108.9 390.1L109.2 390.3L109.5 392.4L109.9 394.1L110.2 395.1L110.5 397.2L110.8 397.6L111.2 398.5L111.5 399.7L111.8 400.8L112.2 401.2L112.5 401.3L112.8 401.8L113.2 401.3L113.5 400.6L113.8 399.6L114.2 398.6L114.5 396.6L114.8 393.7L115.2 391.3L115.5 387.7L115.8 384.4L116.1 380.0L116.5 375.6L116.8 371.2L117.1 367.6L117.5 364.8L117.8 362.2L118.1 359.5L118.5 359.3L118.8 360.1L119.1 359.3L119.5 360.0L119.8 361.8L120.1 365.0L120.4 370.3L120.8 374.8L121.1 380.3L121.4 386.6L121.8 390.1L122.1 392.0L122.4 396.1L122.8 399.6L123.1 402.5L123.4 404.7L123.8 405.8L124.1 406.3L124.4 403.6L124.7 401.1L125.1 399.3L125.4 398.0L125.7 396.9L126.1 396.4L126.4 396.4L126.7 395.1L127.1 393.6L127.4 392.4L127.7 391.7L128.1 391.0L128.4 390.9L128.7 390.1L129.1 388.5L129.4 389.1L129.7 389.6L130.0 388.7L130.4 386.1L130.7 383.4L131.0 378.3L131.4 372.9L131.7 368.2L132.0 364.0L132.4 359.9L132.7 355.2L133.0 348.1L133.4 340.3L133.7 334.0L134.0 328.6L134.3 323.7L134.7 319.1L135.0 318.2L135.3 317.9L135.7 317.5L136.0 318.1L136.3 318.5L136.7 320.2L137.0 326.7L137.3 334.0L137.7 340.3L138.0 346.2L138.3 353.1L138.7 359.2L139.0 365.9L139.3 371.0L139.6 374.0L140.0 374.8L140.3 372.9L140.6 371.1L141.0 369.9L141.3 369.6L141.6 368.6L142.0 367.2L142.3 366.2L142.6 367.5L143.0 367.8L143.3 368.8L143.6 371.2L143.9 372.7L144.3 372.8L144.6 376.7L144.9 382.5L145.3 384.4L145.6 384.6L145.9 384.7L146.3 381.9L146.6 379.6L146.9 376.2L147.3 373.5L147.6 370.0L147.9 366.7L148.2 362.3L148.6 358.4L148.9 355.6L149.2 353.1L149.6 351.1L149.9 350.8L150.2 350.0L150.6 348.5L150.9 347.8L151.2 348.8L151.6 350.7L151.9 353.9L152.2 356.5L152.6 359.5L152.9 364.5L153.2 370.5L153.5 378.1L153.9 385.9L154.2 394.1L154.5 401.4L154.9 405.4L155.2 410.0L155.5 414.3L155.9 415.5L156.2 416.0L156.5 417.2L156.9 417.9L157.2 419.0L157.5 420.8L157.8 421.9L158.2 421.0L158.5 422.4L158.8 423.9L159.2 425.0L159.5 426.0L159.8 427.4L160.2 429.1L160.5 429.6L160.8 430.7L161.2 432.0L161.5 433.2L161.8 434.4L162.2 434.1L162.5 431.3L162.8 427.9L163.1 423.9L163.5 419.2L163.8 415.0L164.1 411.0L164.5 407.7L164.8 403.7L165.1 400.4L165.5 398.5L165.8 396.5L166.1 394.4L166.5 395.0L166.8 394.6L167.1 395.2L167.4 397.2L167.8 398.9L168.1 401.8L168.4 406.3L168.8 409.0L169.1 413.6L169.4 418.8L169.8 422.8L170.1 428.0L170.4 433.8L170.8 438.9L171.1 441.3L171.4 444.5L171.7 447.0L172.1 446.8L172.4 446.4L172.7 447.4L173.1 447.9L173.4 448.4L173.7 449.2L174.1 449.2L174.4 448.9L174.7 448.5L175.1 447.9L175.4 448.5L175.7 448.9L176.1 448.8L176.4 448.9L176.7 449.1L177.0 450.7L177.4 451.2L177.7 449.9L178.0 448.2L178.4 445.8L178.7 443.2L179.0 439.2L179.4 434.7L179.7 430.5L180.0 426.3L180.4 422.1L180.7 419.1L181.0 415.5L181.3 413.1L181.7 410.8L182.0 409.2L182.3 407.6L182.7 407.0L183.0 406.3L183.3 407.4L183.7 408.6L184.0 410.5L184.3 413.4L184.7 416.7L185.0 419.1L185.3 423.6L185.7 427.6L186.0 432.4L186.3 435.1L186.6 438.7L187.0 442.5L187.3 446.6L187.6 447.4L188.0 447.7L188.3 447.4L188.6 446.8L189.0 447.7L189.3 448.6L189.6 448.5L190.0 448.8L190.3 448.3L190.6 448.3L190.9 448.3L191.3 449.1L191.6 450.0L191.9 449.3L192.3 448.7L192.6 448.2L192.9 448.4L193.3 449.4L193.6 448.2L193.9 446.7L194.3 445.3L194.6 443.4L194.9 441.2L195.2 436.5L195.6 434.4L195.9 431.8L196.2 427.9L196.6 425.3L196.9 424.0L197.2 422.4L197.6 419.1L197.9 417.4L198.2 418.3L198.6 418.5L198.9 417.2L199.2 417.1L199.6 419.9L199.9 421.5L200.2 423.8L200.5 425.6L200.9 427.8L201.2 431.0L201.5 435.2L201.9 437.8L202.2 438.6L202.5 441.9L202.9 445.9L203.2 446.7L203.5 447.0L203.9 447.7L204.2 448.0L204.5 447.9L204.8 447.6L205.2 447.6L205.5 447.7L205.8 448.0L206.2 447.5L206.5 447.5L206.8 448.0L207.2 448.7L207.5 448.2L207.8 447.7L208.2 447.9L208.5 448.1L208.8 448.3L209.1 448.2L209.5 448.7L209.8 447.1L210.1 443.8L210.5 440.8L210.8 438.5L211.1 435.2L211.5 431.1L211.8 426.7L212.1 423.5L212.5 422.0L212.8 420.1L213.1 417.4L213.5 414.6L213.8 413.8L214.1 412.2L214.4 411.8L214.8 411.5L215.1 411.0L215.4 411.3L215.8 411.8L216.1 413.6L216.4 415.6L216.8 419.0L217.1 421.7L217.4 424.5L217.8 427.3L218.1 430.3L218.4 433.9L218.7 436.9L219.1 439.9L219.4 441.4L219.7 441.4L220.1 442.4L220.4 443.2L220.7 443.8L221.1 445.2L221.4 446.0L221.7 445.3L222.1 444.9L222.4 444.7L222.7 446.1L223.1 446.4L223.4 446.3L223.7 448.1L224.0 449.0L224.4 448.4L224.7 447.9L225.0 447.6L225.4 447.7L225.7 445.3L226.0 443.7L226.4 442.1L226.7 438.3L227.0 434.6L227.4 430.6L227.7 426.6L228.0 423.9L228.3 421.0L228.7 417.6L229.0 415.9L229.3 414.7L229.7 412.6L230.0 409.9L230.3 409.0L230.7 409.2L231.0 411.2L231.3 412.5L231.7 413.5L232.0 414.6L232.3 417.3L232.6 421.3L233.0 424.8L233.3 428.0L233.6 432.1L234.0 436.1L234.3 438.9L234.6 440.7L235.0 442.4L235.3 444.7L235.6 445.5L236.0 445.4L236.3 445.2L236.6 445.4L237.0 446.2L237.3 446.2L237.6 445.9L237.9 444.6L238.3 444.0L238.6 443.5L238.9 442.1L239.3 441.1L239.6 441.2L239.9 441.4L240.3 440.6L240.6 440.0L240.9 438.2L241.3 436.4L241.6 432.9L241.9 429.6L242.2 426.0L242.6 420.5L242.9 414.9L243.2 409.1L243.6 402.9L243.9 397.2L244.2 392.3L244.6 387.6L244.9 383.1L245.2 379.0L245.6 375.4L245.9 372.4L246.2 370.6L246.6 369.8L246.9 370.2L247.2 368.9L247.5 368.3L247.9 368.9L248.2 370.7L248.5 373.4L248.9 378.1L249.2 382.9L249.5 386.5L249.9 390.9L250.2 395.9L250.5 401.0L250.9 406.6L251.2 408.0L251.5 408.0L251.8 408.7L252.2 409.6L252.5 410.3L252.8 410.7L253.2 410.3L253.5 409.9L253.8 409.7L254.2 408.0L254.5 406.0L254.8 403.9L255.2 402.6L255.5 401.4L255.8 399.9L256.1 397.9L256.5 397.1L256.8 395.9L257.1 393.7L257.5 390.1L257.8 385.5L258.1 380.0L258.5 372.2L258.8 365.9L259.1 358.9L259.5 352.9L259.8 347.3L260.1 340.7L260.5 335.1L260.8 330.4L261.1 327.6L261.4 324.2L261.8 321.2L262.1 318.1L262.4 318.1L262.8 320.3L263.1 321.8L263.4 324.3L263.8 327.7L264.1 331.3L264.4 336.6L264.8 341.6L265.1 346.5L265.4 351.0L265.7 356.0L266.1 360.2L266.4 364.9L266.7 368.2L267.1 369.5L267.4 368.6L267.7 367.2L268.1 366.1L268.4 368.7L268.7 370.2L269.1 371.4L269.4 372.4L269.7 373.1L270.1 375.4L270.4 378.6L270.7 380.9L271.0 381.6L271.4 383.5L271.7 386.4L272.0 387.0L272.4 388.9L272.7 388.9L273.0 389.0L273.4 388.9L273.7 386.4L274.0 381.7L274.4 378.6L274.7 373.8L275.0 368.8L275.3 362.4L275.7 356.6L276.0 353.0L276.3 349.7L276.7 346.9L277.0 343.7L277.3 340.6L277.7 338.3L278.0 337.3L278.3 337.5L278.7 338.5L279.0 340.2L279.3 342.2L279.6 347.0L280.0 352.1L280.3 357.9L280.6 363.5L281.0 369.1L281.3 375.8L281.6 381.5L282.0 387.4L282.3 393.1L282.6 399.6L283.0 402.7L283.3 403.0L283.6 404.8L284.0 407.0L284.3 408.2L284.6 409.1L284.9 409.6L285.3 410.5L285.6 411.6L285.9 412.4L286.3 411.8L286.6 412.2L286.9 413.6L287.3 413.6L287.6 414.7L287.9 415.2L288.3 414.8L288.6 414.2L288.9 412.6L289.2 408.4L289.6 402.2L289.9 396.0L290.2 390.6L290.6 384.5L290.9 377.7L291.2 370.8L291.6 362.8L291.9 356.1L292.2 350.6L292.6 345.0L292.9 340.2L293.2 336.4L293.5 334.5L293.9 332.4L294.2 332.2L294.5 332.5L294.9 336.6L295.2 341.1L295.5 347.1L295.9 352.7L296.2 360.4L296.5 368.8L296.9 376.0L297.2 384.2L297.5 391.5L297.9 398.3L298.2 406.4L298.5 412.4L298.8 415.4L299.2 417.0L299.5 417.5L299.8 418.4L300.2 420.0L300.5 421.5L300.8 423.1L301.2 421.0L301.5 420.9L301.8 420.2L302.2 417.5L302.5 416.8L302.8 417.4L303.1 416.6L303.5 416.6L303.8 416.5L304.1 415.1L304.5 413.5L304.8 412.3L305.1 410.3L305.5 405.4L305.8 399.8L306.1 392.8L306.5 385.2L306.8 379.4L307.1 372.3L307.5 364.5L307.8 356.6L308.1 350.7L308.4 345.7L308.8 341.4L309.1 338.1L309.4 336.9L309.8 336.3L310.1 337.0L310.4 339.3L310.8 343.7L311.1 347.3L311.4 351.1L311.8 358.3L312.1 366.4L312.4 374.3L312.7 381.4L313.1 388.8L313.4 396.3L313.7 403.9L314.1 409.7L314.4 414.5L314.7 418.0L315.1 419.3L315.4 419.3L315.7 419.5L316.1 421.4L316.4 422.1L316.7 423.4L317.0 424.7L317.4 426.1L317.7 426.7L318.0 426.6L318.4 427.1L318.7 428.2L319.0 430.7L319.4 431.9L319.7 432.9L320.0 432.7L320.4 433.1L320.7 435.7L321.0 434.0L321.4 430.4L321.7 426.1L322.0 421.3L322.3 415.3L322.7 408.7L323.0 404.0L323.3 398.1L323.7 393.3L324.0 390.2L324.3 386.0L324.7 381.1L325.0 377.7L325.3 377.3L325.7 377.4L326.0 377.5L326.3 378.5L326.6 381.2L327.0 385.1L327.3 390.8L327.6 397.0L328.0 402.8L328.3 408.5L328.6 415.8L329.0 422.9L329.3 429.1L329.6 435.9L330.0 442.7L330.3 446.6L330.6 449.2L331.0 448.9L331.3 448.8L331.6 448.3L331.9 449.6L332.3 451.2L332.6 452.0L332.9 451.8L333.3 451.3L333.6 450.8L333.9 450.4L334.3 450.5L334.6 450.6L334.9 450.0L335.3 450.1L335.6 448.9L335.9 447.9L336.2 447.8L336.6 447.3L336.9 444.9L337.2 441.9L337.6 436.2L337.9 430.3L338.2 424.6L338.6 417.9L338.9 410.6L339.2 404.9L339.6 398.7L339.9 392.9L340.2 388.1L340.5 383.1L340.9 379.9L341.2 378.3L341.5 377.4L341.9 376.6L342.2 377.5L342.5 380.0L342.9 382.9L343.2 386.0L343.5 390.0L343.9 393.9L344.2 398.9L344.5 404.6L344.9 409.7L345.2 415.2L345.5 422.4L345.8 427.3L346.2 431.6L346.5 436.0L346.8 437.8L347.2 438.2L347.5 439.1L347.8 439.2L348.2 439.1L348.5 439.3L348.8 440.3L349.2 441.3L349.5 440.7L349.8 441.5L350.1 440.8L350.5 441.2L350.8 442.3L351.1 442.6L351.5 442.1L351.8 441.4L352.1 442.2L352.5 442.5L352.8 441.5L353.1 436.7L353.5 431.2L353.8 425.1L354.1 419.2L354.5 413.3L354.8 408.4L355.1 402.5L355.4 397.2L355.8 391.8L356.1 388.0L356.4 385.4L356.8 381.3L357.1 378.8L357.4 378.8L357.8 378.6L358.1 380.1L358.4 382.9L358.8 385.4L359.1 389.6L359.4 394.3L359.7 401.6L360.1 408.3L360.4 414.0L360.7 420.5L361.1 427.1L361.4 434.2L361.7 440.2L362.1 443.9L362.4 447.0L362.7 446.2L363.1 445.8L363.4 446.2L363.7 448.1L364.0 447.6L364.4 447.1L364.7 446.9L365.0 447.2L365.4 445.9L365.7 447.1L366.0 448.5L366.4 447.7L366.7 447.9L367.0 448.4L367.4 448.1L367.7 448.8L368.0 449.8L368.4 449.7L368.7 447.3L369.0 443.2L369.3 438.8L369.7 433.7L370.0 428.4L370.3 421.6L370.7 414.0L371.0 406.9L371.3 402.8L371.7 398.0L372.0 392.3L372.3 387.8L372.7 385.9L373.0 385.3L373.3 384.0L373.6 384.5L374.0 386.5L374.3 389.3L374.6 391.9L375.0 395.4L375.3 400.3L375.6 406.7L376.0 412.2L376.3 416.9L376.6 422.1L377.0 429.0L377.3 435.8L377.6 441.1L378.0 446.2L378.3 449.0L378.6 449.4L378.9 450.0L379.3 450.1L379.6 449.6L379.9 450.4L380.3 451.7L380.6 450.3L380.9 450.5L381.3 451.7L381.6 451.2L381.9 450.6L382.3 450.8L382.6 452.2L382.9 453.2L383.2 453.4L383.6 452.8L383.9 452.7L384.2 451.6L384.6 449.3L384.9 445.3L385.2 440.9L385.6 436.1L385.9 430.2L386.2 423.5L386.6 418.2L386.9 411.7L387.2 405.9L387.5 401.3L387.9 396.9L388.2 394.0L388.5 391.6L388.9 389.7L389.2 389.0L389.5 388.8L389.9 389.6L390.2 391.1L390.5 394.5L390.9 398.0L391.2 402.5L391.5 407.8L391.9 412.9L392.2 417.4L392.5 422.9L392.8 429.3L393.2 435.2L393.5 439.8L393.8 443.7L394.2 445.8L394.5 445.0L394.8 443.9L395.2 442.8L395.5 442.4L395.8 442.6L396.2 442.8L396.5 442.6L396.8 442.1L397.1 441.8L397.5 441.8L397.8 441.4L398.1 441.0L398.5 440.5L398.8 439.5L399.1 439.0L399.5 439.6L399.8 439.7L400.1 439.0L400.5 437.1L400.8 434.6L401.1 429.0L401.4 424.0L401.8 419.0L402.1 413.2L402.4 408.8L402.8 404.8L403.1 399.7L403.4 394.9L403.8 391.0L404.1 387.7L404.4 385.6L404.8 383.5L405.1 382.6L405.4 383.3L405.8 384.9L406.1 386.6L406.4 387.5L406.7 388.5L407.1 392.9L407.4 397.2L407.7 399.9L408.1 402.0L408.4 405.2L408.7 409.0L409.1 411.4L409.4 413.2L409.7 413.4L410.1 413.1L410.4 410.0L410.7 405.4L411.0 404.5L411.4 403.7L411.7 402.8L412.0 402.9L412.4 403.2L412.7 403.1L413.0 401.8L413.4 402.8L413.7 403.2L414.0 402.1L414.4 401.2L414.7 400.2L415.0 401.2L415.4 403.5L415.7 405.4L416.0 407.4L416.3 408.4L416.7 406.7L417.0 404.6L417.3 402.5L417.7 398.6L418.0 395.8L418.3 393.9L418.7 392.0L419.0 390.5L419.3 388.9L419.7 388.5L420.0 387.5L420.3 386.0L420.6 385.2L421.0 386.0L421.3 386.9L421.6 387.6L422.0 390.2L422.3 393.1L422.6 396.7L423.0 401.4L423.3 405.3L423.6 408.5L424.0 413.1L424.3 417.6L424.6 422.5L424.9 426.6L425.3 430.6L425.6 432.1L425.9 432.5L426.3 430.8L426.6 429.6L426.9 430.2L427.3 429.1L427.6 429.2L427.9 429.4L428.3 430.2L428.6 431.2L428.9 431.2L429.3 431.4L429.6 430.8L429.9 432.0L430.2 432.6L430.6 433.3L430.9 434.4L431.2 435.8L431.6 436.9L431.9 436.1L432.2 435.7L432.6 434.5L432.9 432.9L433.2 429.4L433.6 426.1L433.9 422.5L434.2 419.7L434.5 416.6L434.9 412.8L435.2 409.8L435.5 407.1L435.9 405.9L436.2 404.5L436.5 402.8L436.9 402.3L437.2 400.6L437.5 400.8L437.9 402.6L438.2 405.2L438.5 407.9L438.9 411.9L439.2 416.4L439.5 421.3L439.8 425.2L440.2 429.2L440.5 434.4L440.8 440.1L441.2 442.3L441.5 446.3L441.8 449.0L442.2 448.5L442.5 447.6L442.8 448.1L443.2 448.9L443.5 448.8L443.8 447.9L444.1 448.4L444.5 448.6L444.8 449.1L445.1 449.1L445.5 447.7L445.8 446.9L446.1 448.1L446.5 449.1L446.8 448.5L447.1 448.4L447.5 448.9L447.8 447.3L448.1 445.2L448.4 441.2L448.8 436.9L449.1 432.4L449.4 427.4L449.8 420.7L450.1 414.8L450.4 409.3L450.8 405.4L451.1 401.0L451.4 397.2L451.8 393.5L452.1 391.7L452.4 391.0L452.8 389.9L453.1 389.7L453.4 390.1L453.7 390.6L454.1 392.2L454.4 396.3L454.7 399.9L455.1 403.5L455.4 406.0L455.7 409.9L456.1 414.3L456.4 419.8L456.7 425.2L457.1 428.5L457.4 430.6L457.7 431.8L458.0 431.2L458.4 430.0L458.7 430.3L459.0 429.8L459.4 428.7L459.7 429.9L460.0 431.2L460.4 430.6L460.7 430.4L461.0 430.3L461.4 431.2L461.7 433.3L462.0 433.9L462.4 433.9L462.7 434.3L463.0 436.5L463.3 436.8L463.7 437.3L464.0 437.9L464.3 435.9L464.7 432.3L465.0 430.6L465.3 427.7L465.7 424.0L466.0 421.1L466.3 416.7L466.7 413.4L467.0 410.6L467.3 408.9L467.6 407.8L468.0 405.4L468.3 404.2L468.6 404.2L469.0 404.8L469.3 404.7L469.6 405.3L470.0 405.1L470.3 405.8L470.6 407.9L471.0 410.0L471.3 411.9L471.6 415.0L471.9 417.8L472.3 418.6L472.6 420.5L472.9 422.4L473.3 422.1L473.6 421.4L473.9 420.2L474.3 419.9L474.6 418.8L474.9 417.8L475.3 417.4L475.6 417.5L475.9 416.3L476.3 414.4L476.6 414.2L476.9 414.0L477.2 413.6L477.6 412.0L477.9 409.9L478.2 407.9L478.6 405.8L478.9 404.9L479.2 403.5L479.6 402.3L479.9 398.6L480.2 394.2L480.6 388.9L480.9 383.6L481.2 378.6L481.5 372.5L481.9 366.5L482.2 360.2L482.5 355.0L482.9 349.6L483.2 345.8L483.5 342.7L483.9 340.5L484.2 338.3L484.5 337.0L484.9 337.0L485.2 337.1L485.5 338.2L485.9 339.9L486.2 341.6L486.5 344.2L486.8 347.7L487.2 351.1L487.5 355.3L487.8 359.7L488.2 362.8L488.5 364.6L488.8 366.4L489.2 368.6L489.5 369.4L489.8 368.4L490.2 366.2L490.5 363.9L490.8 357.0L491.1 349.3L491.5 342.4L491.8 337.2L492.1 337.2L492.5 336.3L492.8 335.5L493.1 334.8L493.5 335.3L493.8 335.2L494.1 334.9L494.5 334.4L494.8 334.4L495.1 334.4L495.4 334.7L495.8 333.3L496.1 329.2L496.4 323.9L496.8 319.3L497.1 314.3L497.4 310.0L497.8 306.1L498.1 301.3L498.4 296.4L498.8 292.5L499.1 288.3L499.4 284.8L499.8 282.6L500.1 282.0L500.4 282.4L500.7 282.6L501.1 285.4L501.4 288.1L501.7 290.3L502.1 293.6L502.4 302.9L502.7 321.9L503.1 341.2L503.4 354.6L503.7 363.1L504.1 371.1L504.4 378.1L504.7 384.9L505.0 391.0L505.4 396.7L505.7 400.5L506.0 405.4L506.4 409.7L506.7 413.9L507.0 419.2L507.4 420.6L507.7 422.9L508.0 425.8L508.4 427.5L508.7 430.3L509.0 432.4L509.3 433.5L509.7 434.9L510.0 435.5L510.3 434.4L510.7 432.8L511.0 431.2L511.3 428.9L511.7 425.5L512.0 421.0L512.3 413.8L512.7 407.1L513.0 401.3L513.3 394.1L513.7 386.6L514.0 381.8L514.3 377.2L514.6 372.1L515.0 368.5L515.3 365.1L515.6 362.8L516.0 360.7L516.3 359.9L516.6 358.4L517.0 358.6L517.3 360.0L517.6 361.6L518.0 364.7L518.3 367.9L518.6 370.4L518.9 372.4L519.3 376.5L519.6 379.9L519.9 381.8L520.3 383.3L520.6 383.4L520.9 384.5L521.3 384.1L521.6 383.3L521.9 382.6L522.3 381.5L522.6 379.8L522.9 378.6L523.3 376.7L523.6 375.6L523.9 375.6L524.2 374.2L524.6 372.9L524.9 372.9L525.2 373.6L525.6 374.4L525.9 374.0L526.2 373.5L526.6 374.1L526.9 376.8L527.2 379.4L527.6 380.3L527.9 380.2L528.2 380.5L528.5 382.3L528.9 382.7L529.2 381.8L529.5 382.0L529.9 383.7L530.2 382.3L530.5 382.1L530.9 381.6L531.2 379.9L531.5 380.1L531.9 380.8L532.2 382.3L532.5 384.3L532.8 387.0L533.2 388.4L533.5 390.5L533.8 393.7L534.2 396.2L534.5 399.9L534.8 404.6L535.2 407.0L535.5 410.5L535.8 414.1L536.2 416.4L536.5 418.9L536.8 422.7L537.2 423.7L537.5 424.0L537.8 424.5L538.1 424.5L538.5 425.0L538.8 426.8L539.1 428.7L539.5 428.5L539.8 428.5L539.8 453.7Z" fill="#ffd700"/>
<path d="M47.3 453.7L47.3 423.4L47.6 422.6L48.0 421.3L48.3 420.7L48.6 421.4L49.0 422.7L49.3 422.8L49.6 422.6L49.9 422.9L50.3 422.6L50.6 421.2L50.9 421.6L51.3 421.5L51.6 421.2L51.9 421.9L52.3 422.8L52.6 423.0L52.9 422.8L53.3 424.2L53.6 425.8L53.9 424.6L54.3 424.4L54.6 426.0L54.9 426.6L55.2 426.3L55.6 425.7L55.9 426.3L56.2 425.5L56.6 425.0L56.9 425.4L57.2 426.0L57.6 427.6L57.9 429.5L58.2 431.3L58.6 433.6L58.9 435.4L59.2 437.2L59.5 437.2L59.9 438.2L60.2 440.4L60.5 440.8L60.9 442.2L61.2 443.6L61.5 444.5L61.9 445.9L62.2 447.4L62.5 446.4L62.9 448.5L63.2 450.1L63.5 449.3L63.8 449.3L64.2 450.5L64.5 451.1L64.8 450.1L65.2 450.6L65.5 451.3L65.8 452.0L66.2 452.2L66.5 452.2L66.8 451.7L67.2 451.7L67.5 451.3L67.8 451.2L68.2 451.6L68.5 451.5L68.8 451.4L69.1 452.1L69.5 450.8L69.8 449.6L70.1 450.0L70.5 449.0L70.8 448.8L71.1 448.2L71.5 447.7L71.8 446.9L72.1 445.6L72.5 445.3L72.8 444.8L73.1 441.9L73.4 441.6L73.8 441.0L74.1 439.0L74.4 438.3L74.8 439.0L75.1 437.7L75.4 437.4L75.8 436.1L76.1 435.1L76.4 434.8L76.8 434.6L77.1 434.3L77.4 433.4L77.8 432.6L78.1 432.3L78.4 432.4L78.7 431.5L79.1 429.7L79.4 429.3L79.7 429.6L80.1 429.0L80.4 428.6L80.7 428.2L81.1 428.5L81.4 429.0L81.7 429.1L82.1 428.8L82.4 428.6L82.7 426.7L83.0 426.2L83.4 423.7L83.7 421.0L84.0 418.1L84.4 414.6L84.7 413.3L85.0 411.8L85.4 409.6L85.7 405.9L86.0 404.2L86.4 402.4L86.7 400.6L87.0 398.0L87.3 397.6L87.7 396.9L88.0 396.0L88.3 394.3L88.7 394.1L89.0 397.3L89.3 399.8L89.7 402.0L90.0 404.5L90.3 406.6L90.7 407.8L91.0 407.8L91.3 408.3L91.7 410.2L92.0 410.5L92.3 410.0L92.6 409.9L93.0 410.3L93.3 410.5L93.6 410.4L94.0 411.7L94.3 414.2L94.6 414.5L95.0 414.4L95.3 415.0L95.6 416.7L96.0 418.9L96.3 420.1L96.6 420.6L96.9 421.3L97.3 421.8L97.6 422.5L97.9 424.5L98.3 425.8L98.6 427.1L98.9 426.3L99.3 427.1L99.6 428.5L99.9 428.5L100.3 428.5L100.6 428.1L100.9 427.6L101.2 426.6L101.6 425.3L101.9 424.6L102.2 423.3L102.6 421.5L102.9 419.8L103.2 418.4L103.6 417.4L103.9 416.1L104.2 414.1L104.6 412.5L104.9 410.3L105.2 407.9L105.6 406.8L105.9 406.4L106.2 405.2L106.5 403.8L106.9 401.5L107.2 400.0L107.5 398.7L107.9 396.4L108.2 393.6L108.5 391.8L108.9 390.1L109.2 390.3L109.5 392.4L109.9 394.1L110.2 395.1L110.5 397.2L110.8 397.6L111.2 398.5L111.5 399.7L111.8 400.8L112.2 401.2L112.5 401.3L112.8 401.8L113.2 401.3L113.5 400.6L113.8 399.6L114.2 398.7L114.5 398.9L114.8 399.5L115.2 401.4L115.5 402.6L115.8 404.4L116.1 405.3L116.5 406.1L116.8 406.8L117.1 407.9L117.5 409.3L117.8 410.3L118.1 410.5L118.5 412.4L118.8 414.5L119.1 414.1L119.5 414.3L119.8 414.8L120.1 415.8L120.4 418.1L120.8 419.0L121.1 420.2L121.4 421.8L121.8 420.2L122.1 416.9L122.4 415.7L122.8 414.1L123.1 412.2L123.4 410.1L123.8 407.9L124.1 406.3L124.4 403.6L124.7 401.1L125.1 399.3L125.4 398.0L125.7 396.9L126.1 396.4L126.4 396.4L126.7 395.1L127.1 393.6L127.4 392.4L127.7 391.7L128.1 391.0L128.4 390.9L128.7 390.1L129.1 388.5L129.4 389.1L129.7 389.6L130.0 388.8L130.4 388.1L130.7 388.6L131.0 387.3L131.4 386.3L131.7 386.1L132.0 386.8L132.4 387.4L132.7 387.2L133.0 384.3L133.4 380.3L133.7 377.3L134.0 374.4L134.3 371.5L134.7 368.0L135.0 367.4L135.3 366.7L135.7 365.1L136.0 363.7L136.3 361.5L136.7 359.9L137.0 362.5L137.3 365.6L137.7 367.4L138.0 368.5L138.3 370.7L138.7 372.2L139.0 374.6L139.3 375.9L139.6 375.8L140.0 374.9L140.3 372.9L140.6 371.1L141.0 369.9L141.3 369.6L141.6 368.6L142.0 367.2L142.3 366.2L142.6 367.5L143.0 367.8L143.3 368.8L143.6 371.2L143.9 372.7L144.3 372.8L144.6 376.7L144.9 382.5L145.3 384.4L145.6 384.6L145.9 384.8L146.3 383.6L146.6 384.0L146.9 384.0L147.3 385.0L147.6 385.5L147.9 386.3L148.2 386.1L148.6 386.0L148.9 386.9L149.2 387.7L149.6 388.5L149.9 390.4L150.2 391.2L150.6 390.8L150.9 390.4L151.2 391.1L151.6 391.9L151.9 393.4L152.2 393.6L152.6 393.8L152.9 395.5L153.2 397.8L153.5 401.5L153.9 405.2L154.2 409.4L154.5 412.6L154.9 412.9L155.2 414.3L155.5 415.9L155.9 415.5L156.2 416.0L156.5 417.2L156.9 417.9L157.2 419.0L157.5 420.8L157.8 421.9L158.2 421.0L158.5 422.4L158.8 423.9L159.2 425.0L159.5 426.0L159.8 427.4L160.2 429.1L160.5 429.6L160.8 430.7L161.2 432.0L161.5 433.2L161.8 434.5L162.2 436.1L162.5 436.3L162.8 436.7L163.1 436.9L163.5 436.7L163.8 437.1L164.1 437.7L164.5 438.8L164.8 438.9L165.1 439.3L165.5 440.6L165.8 441.1L166.1 440.8L166.5 442.6L166.8 442.5L167.1 442.7L167.4 443.5L167.8 443.3L168.1 443.6L168.4 444.9L168.8 443.9L169.1 444.4L169.4 445.1L169.8 444.6L170.1 445.2L170.4 446.4L170.8 447.4L171.1 446.1L171.4 446.3L171.7 447.1L172.1 446.8L172.4 446.4L172.7 447.4L173.1 447.9L173.4 448.4L173.7 449.2L174.1 449.2L174.4 448.9L174.7 448.5L175.1 447.9L175.4 448.5L175.7 448.9L176.1 448.8L176.4 448.9L176.7 449.1L177.0 450.7L177.4 451.2L177.7 450.0L178.0 449.9L178.4 450.1L178.7 450.7L179.0 450.3L179.4 449.7L179.7 449.4L180.0 449.2L180.4 448.8L180.7 449.3L181.0 448.9L181.3 449.1L181.7 449.0L182.0 449.0L182.3 448.4L182.7 448.1L183.0 447.0L183.3 447.1L183.7 446.6L184.0 446.4L184.3 446.5L184.7 446.6L185.0 445.5L185.3 446.2L185.7 446.2L186.0 447.1L186.3 446.0L186.6 445.9L187.0 446.6L187.3 448.2L187.6 447.4L188.0 447.7L188.3 447.4L188.6 446.8L189.0 447.7L189.3 448.6L189.6 448.5L190.0 448.8L190.3 448.3L190.6 448.3L190.9 448.3L191.3 449.1L191.6 450.0L191.9 449.3L192.3 448.7L192.6 448.2L192.9 448.4L193.3 449.4L193.6 448.2L193.9 448.0L194.3 448.6L194.6 449.1L194.9 449.6L195.2 447.8L195.6 448.7L195.9 449.1L196.2 448.0L196.6 448.1L196.9 449.1L197.2 449.5L197.6 447.9L197.9 447.4L198.2 449.0L198.6 449.5L198.9 447.9L199.2 447.0L199.6 448.6L199.9 448.6L200.2 448.8L200.5 448.2L200.9 447.7L201.2 448.0L201.5 449.2L201.9 448.8L202.2 446.7L202.5 447.3L202.9 448.9L203.2 447.9L203.5 447.1L203.9 447.7L204.2 448.0L204.5 447.9L204.8 447.6L205.2 447.6L205.5 447.7L205.8 448.0L206.2 447.5L206.5 447.5L206.8 448.0L207.2 448.7L207.5 448.2L207.8 447.7L208.2 447.9L208.5 448.1L208.8 448.3L209.1 448.2L209.5 448.8L209.8 448.4L210.1 447.0L210.5 446.4L210.8 446.8L211.1 446.4L211.5 445.3L211.8 443.8L212.1 443.4L212.5 444.5L212.8 445.0L213.1 444.3L213.5 443.1L213.8 443.5L214.1 442.7L214.4 442.4L214.8 441.9L215.1 440.6L215.4 439.7L215.8 438.5L216.1 438.3L216.4 437.9L216.8 438.6L217.1 438.6L217.4 438.4L217.8 438.3L218.1 438.4L218.4 439.3L218.7 439.9L219.1 441.0L219.4 441.4L219.7 441.4L220.1 442.4L220.4 443.2L220.7 443.8L221.1 445.2L221.4 446.0L221.7 445.3L222.1 444.9L222.4 444.7L222.7 446.1L223.1 446.4L223.4 446.3L223.7 448.1L224.0 449.0L224.4 448.4L224.7 447.9L225.0 447.6L225.4 447.8L225.7 446.6L226.0 447.1L226.4 448.1L226.7 447.1L227.0 446.5L227.4 445.6L227.7 444.7L228.0 445.0L228.3 444.9L228.7 444.0L229.0 444.5L229.3 445.0L229.7 444.2L230.0 442.2L230.3 441.5L230.7 441.5L231.0 442.7L231.3 442.7L231.7 442.0L232.0 440.8L232.3 441.0L232.6 442.2L233.0 442.7L233.3 442.8L233.6 443.8L234.0 444.7L234.3 444.7L234.6 444.0L235.0 443.6L235.3 444.8L235.6 445.5L236.0 445.4L236.3 445.2L236.6 445.4L237.0 446.2L237.3 446.2L237.6 445.9L237.9 444.6L238.3 444.0L238.6 443.5L238.9 442.1L239.3 441.1L239.6 441.2L239.9 441.4L240.3 440.6L240.6 440.0L240.9 438.2L241.3 436.5L241.6 434.9L241.9 434.7L242.2 435.0L242.6 433.8L242.9 432.8L243.2 431.7L243.6 430.2L243.9 429.0L244.2 428.3L244.6 427.4L244.9 426.1L245.2 424.6L245.6 422.9L245.9 421.0L246.2 419.7L246.6 418.4L246.9 417.6L247.2 414.3L247.5 411.1L247.9 408.4L248.2 406.4L248.5 404.8L248.9 405.0L249.2 405.1L249.5 404.0L249.9 403.8L250.2 404.6L250.5 405.9L250.9 408.4L251.2 408.0L251.5 408.0L251.8 408.7L252.2 409.6L252.5 410.3L252.8 410.7L253.2 410.3L253.5 409.9L253.8 409.7L254.2 408.0L254.5 406.0L254.8 403.9L255.2 402.6L255.5 401.4L255.8 399.9L256.1 397.9L256.5 397.1L256.8 395.9L257.1 393.9L257.5 392.5L257.8 391.6L258.1 390.6L258.5 387.9L258.8 386.9L259.1 385.5L259.5 385.1L259.8 384.8L260.1 383.1L260.5 382.0L260.8 381.0L261.1 381.3L261.4 380.2L261.8 378.5L262.1 375.8L262.4 375.3L262.8 376.1L263.1 375.3L263.4 374.6L263.8 374.2L264.1 373.3L264.4 373.7L264.8 373.3L265.1 372.7L265.4 371.7L265.7 371.3L266.1 370.4L266.4 370.6L266.7 370.4L267.1 369.5L267.4 368.6L267.7 367.2L268.1 366.1L268.4 368.7L268.7 370.2L269.1 371.4L269.4 372.4L269.7 373.1L270.1 375.4L270.4 378.6L270.7 380.9L271.0 381.6L271.4 383.5L271.7 386.4L272.0 387.0L272.4 388.9L272.7 388.9L273.0 389.1L273.4 391.2L273.7 392.3L274.0 391.9L274.4 393.7L274.7 394.1L275.0 394.5L275.3 393.4L275.7 392.6L276.0 393.8L276.3 394.8L276.7 395.6L277.0 395.4L277.3 394.4L277.7 393.4L278.0 392.8L278.3 392.6L278.7 392.2L279.0 391.7L279.3 390.7L279.6 391.7L280.0 392.5L280.3 393.6L280.6 394.0L281.0 394.3L281.3 395.7L281.6 396.2L282.0 397.2L282.3 398.6L282.6 401.6L283.0 402.7L283.3 403.0L283.6 404.8L284.0 407.0L284.3 408.2L284.6 409.1L284.9 409.6L285.3 410.5L285.6 411.6L285.9 412.4L286.3 411.8L286.6 412.2L286.9 413.6L287.3 413.6L287.6 414.7L287.9 415.2L288.3 414.8L288.6 414.2L288.9 412.8L289.2 411.2L289.6 409.2L289.9 408.3L290.2 408.8L290.6 409.0L290.9 408.6L291.2 408.1L291.6 406.3L291.9 405.3L292.2 404.9L292.6 403.7L292.9 402.4L293.2 401.2L293.5 400.9L293.9 399.3L294.2 398.5L294.5 397.2L294.9 398.6L295.2 399.5L295.5 401.0L295.9 401.4L296.2 403.3L296.5 405.5L296.9 406.4L297.2 408.1L297.5 409.2L297.9 410.1L298.2 413.1L298.5 414.9L298.8 415.4L299.2 417.0L299.5 417.5L299.8 418.4L300.2 420.0L300.5 421.5L300.8 423.1L301.2 421.0L301.5 420.9L301.8 420.2L302.2 417.5L302.5 416.8L302.8 417.4L303.1 416.6L303.5 416.6L303.8 416.5L304.1 415.1L304.5 413.5L304.8 412.5L305.1 413.3L305.5 413.1L305.8 413.2L306.1 412.6L306.5 411.9L306.8 413.1L307.1 413.0L307.5 411.9L307.8 410.4L308.1 410.1L308.4 409.8L308.8 409.4L309.1 409.0L309.4 409.5L309.8 409.4L310.1 409.5L310.4 410.0L310.8 411.4L311.1 411.1L311.4 410.0L311.8 411.6L312.1 413.3L312.4 414.5L312.7 414.5L313.1 414.9L313.4 415.6L313.7 416.8L314.1 417.0L314.4 417.2L314.7 418.1L315.1 419.3L315.4 419.3L315.7 419.5L316.1 421.4L316.4 422.1L316.7 423.4L317.0 424.7L317.4 426.1L317.7 426.7L318.0 426.6L318.4 427.1L318.7 428.2L319.0 430.7L319.4 431.9L319.7 432.9L320.0 432.7L320.4 433.1L320.7 435.9L321.0 436.8L321.4 437.6L321.7 438.6L322.0 439.8L322.3 440.3L322.7 440.4L323.0 442.2L323.3 442.6L323.7 443.6L324.0 445.8L324.3 446.1L324.7 444.9L325.0 444.1L325.3 445.3L325.7 445.9L326.0 445.4L326.3 444.7L326.6 444.7L327.0 444.9L327.3 446.0L327.6 446.8L328.0 446.8L328.3 446.2L328.6 446.8L329.0 447.4L329.3 447.1L329.6 448.0L330.0 449.5L330.3 449.2L330.6 449.2L331.0 448.9L331.3 448.8L331.6 448.3L331.9 449.6L332.3 451.2L332.6 452.0L332.9 451.8L333.3 451.3L333.6 450.8L333.9 450.4L334.3 450.5L334.6 450.6L334.9 450.0L335.3 450.1L335.6 448.9L335.9 447.9L336.2 447.8L336.6 447.4L336.9 447.6L337.2 448.5L337.6 447.8L337.9 447.5L338.2 447.7L338.6 447.1L338.9 445.8L339.2 446.0L339.6 445.2L339.9 444.3L340.2 443.6L340.5 442.0L340.9 441.3L341.2 441.1L341.5 440.7L341.9 439.4L342.2 438.7L342.5 438.6L342.9 438.2L343.2 437.1L343.5 436.1L343.9 434.5L344.2 433.7L344.5 433.3L344.9 432.3L345.2 431.9L345.5 433.6L345.8 433.6L346.2 434.0L346.5 436.0L346.8 437.8L347.2 438.2L347.5 439.1L347.8 439.2L348.2 439.1L348.5 439.3L348.8 440.3L349.2 441.3L349.5 440.7L349.8 441.5L350.1 440.8L350.5 441.2L350.8 442.3L351.1 442.6L351.5 442.1L351.8 441.4L352.1 442.2L352.5 442.6L352.8 444.2L353.1 443.4L353.5 442.9L353.8 442.3L354.1 442.4L354.5 442.7L354.8 443.9L355.1 443.9L355.4 444.0L355.8 443.5L356.1 443.9L356.4 444.7L356.8 443.1L357.1 442.1L357.4 442.5L357.8 441.7L358.1 441.7L358.4 441.9L358.8 441.0L359.1 441.0L359.4 440.7L359.7 442.5L360.1 443.3L360.4 442.9L360.7 443.3L361.1 443.9L361.4 445.5L361.7 446.5L362.1 446.3L362.4 447.1L362.7 446.2L363.1 445.8L363.4 446.2L363.7 448.1L364.0 447.6L364.4 447.1L364.7 446.9L365.0 447.2L365.4 445.9L365.7 447.1L366.0 448.5L366.4 447.7L366.7 447.9L367.0 448.4L367.4 448.1L367.7 448.8L368.0 449.8L368.4 449.9L368.7 450.0L369.0 450.0L369.3 450.6L369.7 451.2L370.0 451.9L370.3 451.4L370.7 449.9L371.0 448.8L371.3 450.3L371.7 450.4L372.0 448.9L372.3 447.9L372.7 448.5L373.0 449.5L373.3 448.6L373.6 448.5L374.0 449.0L374.3 449.2L374.6 448.2L375.0 447.5L375.3 447.3L375.6 448.2L376.0 447.7L376.3 446.2L376.6 445.2L377.0 446.0L377.3 447.2L377.6 447.5L378.0 448.6L378.3 449.0L378.6 449.4L378.9 450.0L379.3 450.1L379.6 449.6L379.9 450.4L380.3 451.7L380.6 450.3L380.9 450.5L381.3 451.7L381.6 451.2L381.9 450.6L382.3 450.8L382.6 452.2L382.9 453.2L383.2 453.4L383.6 452.8L383.9 452.7L384.2 451.7L384.6 451.9L384.9 451.7L385.2 452.2L385.6 452.8L385.9 452.7L386.2 451.9L386.6 452.5L386.9 451.7L387.2 451.1L387.5 451.2L387.9 450.9L388.2 451.3L388.5 451.3L388.9 450.8L389.2 450.5L389.5 449.8L389.9 449.1L390.2 448.1L390.5 448.2L390.9 447.6L391.2 447.3L391.5 447.3L391.9 446.8L392.2 445.3L392.5 444.9L392.8 445.6L393.2 446.0L393.5 445.9L393.8 446.0L394.2 445.9L394.5 445.0L394.8 443.9L395.2 442.8L395.5 442.4L395.8 442.6L396.2 442.8L396.5 442.6L396.8 442.1L397.1 441.8L397.5 441.8L397.8 441.4L398.1 441.0L398.5 440.5L398.8 439.5L399.1 439.0L399.5 439.6L399.8 439.7L400.1 439.1L400.5 439.3L400.8 440.2L401.1 438.8L401.4 438.5L401.8 438.5L402.1 437.9L402.4 438.6L402.8 439.5L403.1 439.0L403.4 438.4L403.8 437.9L404.1 437.5L404.4 437.5L404.8 436.6L405.1 436.1L405.4 436.3L405.8 436.6L406.1 436.2L406.4 434.2L406.7 431.7L407.1 431.9L407.4 431.6L407.7 429.3L408.1 426.3L408.4 424.3L408.7 423.1L409.1 420.9L409.4 418.5L409.7 415.4L410.1 413.2L410.4 410.0L410.7 405.4L411.0 404.5L411.4 403.7L411.7 402.8L412.0 402.9L412.4 403.2L412.7 403.1L413.0 401.8L413.4 402.8L413.7 403.2L414.0 402.1L414.4 401.2L414.7 400.2L415.0 401.2L415.4 403.5L415.7 405.4L416.0 407.4L416.3 409.8L416.7 410.3L417.0 410.8L417.3 411.7L417.7 411.0L418.0 411.5L418.3 412.9L418.7 414.1L419.0 415.6L419.3 416.5L419.7 418.4L420.0 419.2L420.3 419.0L420.6 419.0L421.0 420.1L421.3 420.7L421.6 420.5L422.0 421.7L422.3 422.8L422.6 424.2L423.0 426.2L423.3 427.1L423.6 427.3L424.0 428.5L424.3 429.8L424.6 431.5L424.9 432.6L425.3 434.0L425.6 433.3L425.9 432.5L426.3 430.8L426.6 429.6L426.9 430.2L427.3 429.1L427.6 429.2L427.9 429.4L428.3 430.2L428.6 431.2L428.9 431.2L429.3 431.4L429.6 430.8L429.9 432.0L430.2 432.6L430.6 433.3L430.9 434.4L431.2 435.8L431.6 436.9L431.9 436.2L432.2 437.4L432.6 438.6L432.9 440.0L433.2 439.9L433.6 440.3L433.9 440.5L434.2 441.4L434.5 441.9L434.9 441.5L435.2 441.5L435.5 441.3L435.9 442.2L436.2 442.3L436.5 441.5L436.9 441.3L437.2 439.3L437.5 438.5L437.9 438.7L438.2 439.2L438.5 439.4L438.9 440.3L439.2 441.5L439.5 442.7L439.8 442.9L440.2 443.1L440.5 444.7L440.8 446.9L441.2 446.2L441.5 447.7L441.8 449.1L442.2 448.5L442.5 447.6L442.8 448.1L443.2 448.9L443.5 448.8L443.8 447.9L444.1 448.4L444.5 448.6L444.8 449.1L445.1 449.1L445.5 447.7L445.8 446.9L446.1 448.1L446.5 449.1L446.8 448.5L447.1 448.4L447.5 448.9L447.8 447.4L448.1 447.5L448.4 447.0L448.8 447.0L449.1 447.3L449.4 447.6L449.8 446.2L450.1 445.5L450.4 445.2L450.8 446.0L451.1 445.8L451.4 445.7L451.8 444.9L452.1 445.2L452.4 445.9L452.8 445.1L453.1 444.5L453.4 443.5L453.7 441.8L454.1 440.5L454.4 440.8L454.7 440.1L455.1 438.9L455.4 436.3L455.7 434.9L456.1 434.1L456.4 434.3L456.7 434.9L457.1 434.0L457.4 432.6L457.7 431.9L458.0 431.2L458.4 430.0L458.7 430.3L459.0 429.8L459.4 428.7L459.7 429.9L460.0 431.2L460.4 430.6L460.7 430.4L461.0 430.3L461.4 431.2L461.7 433.3L462.0 433.9L462.4 433.9L462.7 434.3L463.0 436.5L463.3 436.8L463.7 437.4L464.0 439.4L464.3 439.5L464.7 438.6L465.0 440.0L465.3 440.3L465.7 439.9L466.0 440.4L466.3 439.1L466.7 438.7L467.0 438.6L467.3 439.1L467.6 439.9L468.0 438.8L468.3 438.4L468.6 438.7L469.0 438.9L469.3 438.0L469.6 437.2L470.0 435.2L470.3 433.6L470.6 433.0L471.0 432.2L471.3 430.8L471.6 430.6L471.9 430.1L472.3 427.7L472.6 426.6L472.9 425.8L473.3 423.4L473.6 421.4L473.9 420.2L474.3 419.9L474.6 418.8L474.9 417.8L475.3 417.4L475.6 417.5L475.9 416.3L476.3 414.4L476.6 414.2L476.9 414.0L477.2 413.6L477.6 412.0L477.9 409.9L478.2 407.9L478.6 405.8L478.9 404.9L479.2 403.5L479.6 402.4L479.9 400.7L480.2 399.6L480.6 398.2L480.9 397.3L481.2 397.1L481.5 395.8L481.9 394.7L482.2 393.0L482.5 392.2L482.9 390.7L483.2 390.2L483.5 389.8L483.9 389.5L484.2 388.6L484.5 387.6L484.9 387.1L485.2 386.1L485.5 385.1L485.9 384.0L486.2 382.4L486.5 381.1L486.8 380.2L487.2 378.9L487.5 378.3L487.8 377.8L488.2 376.1L488.5 373.6L488.8 371.4L489.2 370.5L489.5 369.5L489.8 368.4L490.2 366.2L490.5 363.9L490.8 357.0L491.1 349.3L491.5 342.4L491.8 337.2L492.1 337.2L492.5 336.3L492.8 335.5L493.1 334.8L493.5 335.3L493.8 335.2L494.1 334.9L494.5 334.4L494.8 334.4L495.1 334.4L495.4 334.8L495.8 335.3L496.1 334.3L496.4 332.7L496.8 332.3L497.1 331.9L497.4 332.3L497.8 333.0L498.1 332.6L498.4 331.8L498.8 331.6L499.1 330.6L499.4 329.6L499.8 329.3L500.1 329.8L500.4 330.6L500.7 330.4L501.1 332.0L501.4 332.8L501.7 332.3L502.1 332.4L502.4 338.0L502.7 352.8L503.1 367.7L503.4 376.5L503.7 380.4L504.1 383.8L504.4 386.6L504.7 389.7L505.0 392.8L505.4 396.7L505.7 400.5L506.0 405.4L506.4 409.7L506.7 413.9L507.0 419.2L507.4 420.6L507.7 422.9L508.0 425.8L508.4 427.5L508.7 430.3L509.0 432.4L509.3 433.5L509.7 434.9L510.0 435.5L510.3 434.4L510.7 432.8L511.0 431.2L511.3 429.0L511.7 426.9L512.0 424.4L512.3 419.7L512.7 415.8L513.0 413.0L513.3 408.9L513.7 404.5L514.0 402.7L514.3 400.8L514.6 398.1L515.0 396.7L515.3 395.0L515.6 393.9L516.0 392.5L516.3 392.0L516.6 390.2L517.0 389.6L517.3 389.8L517.6 389.7L518.0 390.5L518.3 391.3L518.6 391.0L518.9 390.0L519.3 391.0L519.6 391.4L519.9 390.3L520.3 388.9L520.6 386.6L520.9 385.7L521.3 384.2L521.6 383.3L521.9 382.6L522.3 381.5L522.6 379.8L522.9 378.6L523.3 376.7L523.6 375.6L523.9 375.6L524.2 374.2L524.6 372.9L524.9 372.9L525.2 373.6L525.6 374.4L525.9 374.0L526.2 373.5L526.6 374.1L526.9 376.8L527.2 379.5L527.6 381.5L527.9 383.4L528.2 386.1L528.5 390.5L528.9 393.7L529.2 395.7L529.5 398.8L529.9 403.3L530.2 404.5L530.5 406.5L530.9 408.1L531.2 407.9L531.5 409.3L531.9 410.7L532.2 412.4L532.5 414.1L532.8 416.1L533.2 416.4L533.5 416.8L533.8 418.0L534.2 418.2L534.5 419.3L534.8 421.2L535.2 420.7L535.5 421.2L535.8 422.1L536.2 421.7L536.5 421.9L536.8 423.8L537.2 423.8L537.5 424.0L537.8 424.5L538.1 424.5L538.5 425.0L538.8 426.8L539.1 428.7L539.5 428.5L539.8 428.5L539.8 453.7Z" fill="#228b22"/>
<rect x="47.3" y="453.7" width="492.8" height="27.8" fill="#22b7ff"/>
<path d="M47.3 393.4L47.6 392.8L48.0 393.7L48.3 392.8L48.6 393.6L49.0 393.7L49.3 394.0L49.6 393.3L49.9 390.8L50.3 382.5L50.6 373.5L50.9 365.9L51.3 359.2L51.6 355.3L51.9 352.7L52.3 350.6L52.6 349.4L52.9 348.3L53.3 347.2L53.6 345.6L53.9 346.1L54.3 343.9L54.6 344.8L54.9 347.0L55.2 347.8L55.6 348.8L55.9 348.9L56.2 348.2L56.6 348.8L56.9 346.3L57.2 343.9L57.6 343.3L57.9 344.4L58.2 347.2L58.6 350.2L58.9 352.5L59.2 354.0L59.5 356.8L59.9 360.7L60.2 363.4L60.5 366.5L60.9 370.9L61.2 373.4L61.5 375.0L61.9 377.5L62.2 381.5L62.5 382.9L62.9 386.3L63.2 388.5L63.5 390.4L63.8 389.8L64.2 391.7L64.5 390.7L64.8 392.3L65.2 392.9L65.5 393.1L65.8 388.5L66.2 383.0L66.5 373.6L66.8 367.8L67.2 360.4L67.5 356.6L67.8 355.6L68.2 353.7L68.5 352.0L68.8 350.6L69.1 350.0L69.5 348.1L69.8 348.3L70.1 347.6L70.5 347.7L70.8 350.7L71.1 351.1L71.5 350.8L71.8 351.8L72.1 352.0L72.5 350.2L72.8 350.4L73.1 348.2L73.4 346.6L73.8 347.9L74.1 350.6L74.4 352.5L74.8 354.6L75.1 358.6L75.4 361.1L75.8 365.5L76.1 368.9L76.4 371.0L76.8 374.8L77.1 378.3L77.4 381.7L77.8 384.4L78.1 386.7L78.4 388.9L78.7 392.2L79.1 395.2L79.4 394.8L79.7 396.4L80.1 397.6L80.4 398.4L80.7 397.7L81.1 399.5L81.4 398.4L81.7 397.1L82.1 390.2L82.4 381.6L82.7 374.7L83.0 369.1L83.4 366.2L83.7 363.0L84.0 363.1L84.4 361.4L84.7 360.0L85.0 359.8L85.4 357.7L85.7 356.9L86.0 356.5L86.4 355.5L86.7 358.3L87.0 359.5L87.3 360.8L87.7 361.8L88.0 360.8L88.3 359.5L88.7 358.5L89.0 356.8L89.3 357.4L89.7 358.0L90.0 360.2L90.3 361.0L90.7 364.5L91.0 366.9L91.3 370.1L91.7 371.9L92.0 375.6L92.3 378.5L92.6 383.0L93.0 384.4L93.3 387.5L93.6 390.2L94.0 392.5L94.3 395.7L94.6 397.7L95.0 399.3L95.3 400.6L95.6 402.1L96.0 403.0L96.3 403.8L96.6 403.6L96.9 404.0L97.3 403.6L97.6 399.7L97.9 394.9L98.3 384.6L98.6 376.4L98.9 371.7L99.3 368.5L99.6 364.9L99.9 363.8L100.3 363.2L100.6 361.0L100.9 360.9L101.2 360.0L101.6 358.4L101.9 357.7L102.2 358.2L102.6 359.7L102.9 361.5L103.2 361.6L103.6 362.3L103.9 361.4L104.2 360.9L104.6 360.2L104.9 359.0L105.2 357.2L105.6 357.6L105.9 359.9L106.2 362.5L106.5 363.8L106.9 367.1L107.2 368.5L107.5 371.9L107.9 373.9L108.2 376.9L108.5 380.3L108.9 382.9L109.2 386.1L109.5 388.0L109.9 389.8L110.2 390.3L110.5 394.0L110.8 396.2L111.2 397.8L111.5 397.7L111.8 400.2L112.2 400.2L112.5 400.0L112.8 401.3L113.2 398.7L113.5 395.5L113.8 388.6L114.2 377.4L114.5 369.4L114.8 362.5L115.2 356.9L115.5 354.5L115.8 352.8L116.1 351.1L116.5 350.2L116.8 348.4L117.1 348.1L117.5 346.2L117.8 344.3L118.1 344.6L118.5 347.9L118.8 349.5L119.1 349.3L119.5 349.9L119.8 351.2L120.1 349.2L120.4 347.4L120.8 345.5L121.1 345.2L121.4 346.0L121.8 348.9L122.1 349.2L122.4 352.8L122.8 355.6L123.1 358.8L123.4 361.0L123.8 364.3L124.1 368.6L124.4 371.3L124.7 375.5L125.1 378.0L125.4 381.1L125.7 383.9L126.1 386.1L126.4 388.3L126.7 389.6L127.1 390.6L127.4 392.4L127.7 394.0L128.1 393.5L128.4 395.6L128.7 396.0L129.1 393.6L129.4 390.6L129.7 383.5L130.0 374.3L130.4 367.4L130.7 360.9L131.0 356.3L131.4 355.0L131.7 353.4L132.0 352.2L132.4 350.9L132.7 348.6L133.0 347.7L133.4 347.6L133.7 346.6L134.0 346.5L134.3 347.9L134.7 350.3L135.0 350.5L135.3 352.3L135.7 351.3L136.0 349.2L136.3 347.7L136.7 347.6L137.0 346.1L137.3 346.6L137.7 349.4L138.0 351.6L138.3 353.4L138.7 356.0L139.0 358.4L139.3 361.5L139.6 365.2L140.0 368.1L140.3 371.3L140.6 375.3L141.0 377.8L141.3 379.4L141.6 383.5L142.0 384.5L142.3 386.9L142.6 389.2L143.0 389.9L143.3 391.1L143.6 391.8L143.9 393.2L144.3 393.6L144.6 394.1L144.9 391.9L145.3 389.3L145.6 383.2L145.9 372.5L146.3 365.0L146.6 358.3L146.9 354.0L147.3 350.7L147.6 351.4L147.9 348.1L148.2 347.3L148.6 346.7L148.9 345.2L149.2 344.4L149.6 343.1L149.9 342.8L150.2 346.2L150.6 346.2L150.9 347.9L151.2 347.6L151.6 347.7L151.9 345.9L152.2 345.0L152.6 343.5L152.9 342.7L153.2 344.7L153.5 346.0L153.9 348.2L154.2 350.0L154.5 354.9L154.9 356.9L155.2 359.3L155.5 363.6L155.9 366.5L156.2 368.5L156.5 372.3L156.9 376.5L157.2 378.0L157.5 381.0L157.8 383.7L158.2 386.1L158.5 388.3L158.8 390.1L159.2 391.1L159.5 391.6L159.8 392.4L160.2 392.0L160.5 393.7L160.8 393.9L161.2 389.7L161.5 382.4L161.8 372.3L162.2 365.0L162.5 359.3L162.8 354.0L163.1 353.1L163.5 350.7L163.8 349.7L164.1 349.0L164.5 346.4L164.8 347.4L165.1 345.5L165.5 343.8L165.8 344.5L166.1 345.9L166.5 347.8L166.8 348.7L167.1 348.0L167.4 348.9L167.8 347.6L168.1 346.8L168.4 345.4L168.8 343.4L169.1 344.8L169.4 347.2L169.8 349.8L170.1 351.4L170.4 355.2L170.8 357.4L171.1 360.3L171.4 363.6L171.7 366.3L172.1 370.0L172.4 373.4L172.7 374.6L173.1 378.0L173.4 380.4L173.7 383.5L174.1 385.1L174.4 387.2L174.7 388.1L175.1 388.6L175.4 391.2L175.7 391.4L176.1 392.1L176.4 394.5L176.7 392.4L177.0 388.8L177.4 381.8L177.7 373.1L178.0 365.1L178.4 359.2L178.7 356.3L179.0 353.3L179.4 351.6L179.7 350.8L180.0 350.5L180.4 348.1L180.7 347.9L181.0 347.1L181.3 345.9L181.7 346.5L182.0 347.5L182.3 349.0L182.7 349.5L183.0 350.5L183.3 350.8L183.7 349.3L184.0 347.5L184.3 347.1L184.7 344.0L185.0 347.1L185.3 349.3L185.7 350.9L186.0 353.7L186.3 356.7L186.6 359.9L187.0 362.6L187.3 365.5L187.6 368.9L188.0 372.9L188.3 376.0L188.6 378.6L189.0 381.5L189.3 386.5L189.6 387.8L190.0 389.9L190.3 391.7L190.6 392.7L190.9 393.5L191.3 394.8L191.6 395.8L191.9 396.2L192.3 395.7L192.6 396.4L192.9 393.6L193.3 387.7L193.6 381.0L193.9 376.8L194.3 370.9L194.6 368.3L194.9 366.6L195.2 364.8L195.6 363.9L195.9 363.5L196.2 362.0L196.6 361.3L196.9 360.8L197.2 360.0L197.6 360.2L197.9 362.0L198.2 363.2L198.6 363.4L198.9 364.5L199.2 364.3L199.6 362.0L199.9 361.9L200.2 360.9L200.5 360.0L200.9 361.0L201.2 362.5L201.5 364.7L201.9 367.3L202.2 368.4L202.5 371.8L202.9 373.4L203.2 377.5L203.5 379.9L203.9 381.5L204.2 384.9L204.5 387.5L204.8 389.3L205.2 392.4L205.5 393.9L205.8 396.9L206.2 397.6L206.5 398.7L206.8 399.0L207.2 399.8L207.5 401.2L207.8 400.3L208.2 401.9L208.5 401.9L208.8 399.5L209.1 391.3L209.5 383.6L209.8 377.5L210.1 372.3L210.5 369.1L210.8 365.9L211.1 365.3L211.5 362.9L211.8 363.0L212.1 363.2L212.5 360.4L212.8 360.3L213.1 359.4L213.5 358.6L213.8 361.3L214.1 361.8L214.4 363.0L214.8 364.1L215.1 363.0L215.4 362.5L215.8 360.4L216.1 359.5L216.4 358.9L216.8 359.9L217.1 361.7L217.4 363.5L217.8 364.7L218.1 367.2L218.4 369.0L218.7 372.2L219.1 373.9L219.4 376.2L219.7 379.4L220.1 381.8L220.4 383.9L220.7 385.3L221.1 388.3L221.4 389.5L221.7 390.5L222.1 392.7L222.4 394.7L222.7 394.6L223.1 395.0L223.4 396.1L223.7 395.7L224.0 396.4L224.4 395.5L224.7 392.5L225.0 385.1L225.4 374.1L225.7 365.8L226.0 358.9L226.4 354.5L226.7 352.7L227.0 350.7L227.4 348.8L227.7 348.6L228.0 346.9L228.3 345.6L228.7 344.3L229.0 343.3L229.3 343.5L229.7 346.0L230.0 346.8L230.3 347.8L230.7 349.6L231.0 348.2L231.3 347.5L231.7 344.5L232.0 344.4L232.3 343.0L232.6 344.3L233.0 346.7L233.3 348.8L233.6 350.5L234.0 353.9L234.3 356.7L234.6 359.7L235.0 364.0L235.3 366.0L235.6 370.1L236.0 373.4L236.3 377.3L236.6 379.3L237.0 382.4L237.3 385.6L237.6 386.2L237.9 389.3L238.3 391.0L238.6 392.0L238.9 392.8L239.3 393.2L239.6 394.0L239.9 394.2L240.3 393.1L240.6 391.4L240.9 383.8L241.3 373.7L241.6 365.4L241.9 358.3L242.2 354.5L242.6 353.3L242.9 351.2L243.2 348.8L243.6 348.5L243.9 347.0L244.2 345.6L244.6 345.8L244.9 343.3L245.2 343.8L245.6 345.8L245.9 348.2L246.2 348.8L246.6 349.4L246.9 348.5L247.2 347.3L247.5 346.0L247.9 343.7L248.2 342.7L248.5 345.3L248.9 347.4L249.2 348.4L249.5 352.2L249.9 353.8L250.2 356.8L250.5 361.1L250.9 364.0L251.2 367.3L251.5 371.2L251.8 374.8L252.2 377.3L252.5 379.5L252.8 383.1L253.2 385.5L253.5 387.8L253.8 390.5L254.2 390.1L254.5 393.4L254.8 393.7L255.2 393.5L255.5 395.2L255.8 394.6L256.1 393.2L256.5 391.2L256.8 383.2L257.1 373.5L257.5 364.7L257.8 358.6L258.1 354.2L258.5 351.4L258.8 350.2L259.1 348.0L259.5 347.2L259.8 347.0L260.1 345.0L260.5 343.8L260.8 343.9L261.1 342.6L261.4 345.4L261.8 346.8L262.1 348.2L262.4 348.4L262.8 347.8L263.1 346.9L263.4 345.3L263.8 345.2L264.1 342.0L264.4 344.9L264.8 347.6L265.1 349.5L265.4 352.2L265.7 354.1L266.1 358.2L266.4 360.8L266.7 364.7L267.1 366.6L267.4 371.1L267.7 373.9L268.1 378.6L268.4 380.7L268.7 384.6L269.1 386.4L269.4 388.6L269.7 392.2L270.1 393.2L270.4 394.5L270.7 395.9L271.0 396.0L271.4 396.7L271.7 397.5L272.0 395.6L272.4 392.1L272.7 385.7L273.0 374.7L273.4 366.4L273.7 360.0L274.0 355.9L274.4 352.8L274.7 351.1L275.0 349.5L275.3 348.7L275.7 346.3L276.0 345.2L276.3 345.3L276.7 344.1L277.0 343.7L277.3 346.9L277.7 347.8L278.0 348.8L278.3 349.9L278.7 349.2L279.0 348.6L279.3 346.7L279.6 346.2L280.0 342.5L280.3 344.4L280.6 346.8L281.0 349.8L281.3 352.2L281.6 354.7L282.0 358.1L282.3 361.4L282.6 365.7L283.0 368.6L283.3 372.8L283.6 376.7L284.0 379.7L284.3 381.9L284.6 384.6L284.9 388.6L285.3 389.1L285.6 391.6L285.9 393.9L286.3 395.2L286.6 396.2L286.9 396.2L287.3 397.5L287.6 398.4L287.9 396.7L288.3 394.9L288.6 386.4L288.9 375.6L289.2 368.3L289.6 361.8L289.9 357.8L290.2 355.5L290.6 354.1L290.9 353.0L291.2 351.5L291.6 350.2L291.9 348.3L292.2 347.1L292.6 346.8L292.9 347.6L293.2 349.7L293.5 350.9L293.9 350.8L294.2 352.1L294.5 351.8L294.9 350.9L295.2 348.7L295.5 347.8L295.9 346.7L296.2 348.0L296.5 349.3L296.9 352.8L297.2 354.4L297.5 357.2L297.9 361.0L298.2 363.7L298.5 367.4L298.8 371.3L299.2 374.5L299.5 378.3L299.8 380.5L300.2 383.6L300.5 386.3L300.8 388.7L301.2 393.1L301.5 393.4L301.8 395.8L302.2 395.9L302.5 397.7L302.8 397.7L303.1 397.5L303.5 399.7L303.8 398.0L304.1 395.7L304.5 391.3L304.8 382.0L305.1 376.5L305.5 372.0L305.8 369.0L306.1 365.1L306.5 365.9L306.8 365.4L307.1 364.0L307.5 362.8L307.8 361.9L308.1 361.0L308.4 360.8L308.8 360.1L309.1 362.2L309.4 363.8L309.8 364.1L310.1 364.4L310.4 363.4L310.8 362.6L311.1 362.1L311.4 360.9L311.8 359.8L312.1 359.9L312.4 363.0L312.7 365.0L313.1 367.1L313.4 370.3L313.7 372.4L314.1 375.2L314.4 378.3L314.7 380.8L315.1 383.6L315.4 386.5L315.7 389.8L316.1 392.2L316.4 393.5L316.7 397.7L317.0 398.9L317.4 400.4L317.7 401.9L318.0 402.7L318.4 404.0L318.7 404.1L319.0 404.3L319.4 405.6L319.7 404.5L320.0 401.8L320.4 395.4L320.7 385.9L321.0 379.5L321.4 372.7L321.7 368.4L322.0 366.4L322.3 365.2L322.7 364.9L323.0 362.4L323.3 362.6L323.7 361.1L324.0 359.2L324.3 359.9L324.7 359.0L325.0 361.2L325.3 362.9L325.7 363.9L326.0 363.9L326.3 363.9L326.6 361.9L327.0 360.7L327.3 360.9L327.6 359.3L328.0 360.5L328.3 362.9L328.6 363.3L329.0 364.2L329.3 366.0L329.6 368.7L330.0 370.1L330.3 371.4L330.6 374.5L331.0 376.5L331.3 377.3L331.6 379.3L331.9 382.7L332.3 384.3L332.6 385.0L332.9 387.2L333.3 388.1L333.6 388.9L333.9 389.1L334.3 391.6L334.6 391.7L334.9 391.5L335.3 390.6L335.6 390.2L335.9 387.8L336.2 378.9L336.6 368.0L336.9 360.4L337.2 353.8L337.6 349.0L337.9 346.3L338.2 345.1L338.6 343.1L338.9 342.2L339.2 341.1L339.6 340.2L339.9 338.5L340.2 337.7L340.5 337.9L340.9 339.5L341.2 341.3L341.5 341.9L341.9 344.0L342.2 342.3L342.5 341.6L342.9 340.4L343.2 339.0L343.5 336.5L343.9 338.3L344.2 341.4L344.5 343.6L344.9 345.5L345.2 348.3L345.5 350.1L345.8 354.9L346.2 358.1L346.5 360.6L346.8 363.8L347.2 367.1L347.5 369.5L347.8 371.6L348.2 375.7L348.5 378.3L348.8 381.1L349.2 382.1L349.5 382.9L349.8 384.7L350.1 385.1L350.5 386.2L350.8 385.9L351.1 387.1L351.5 386.9L351.8 383.5L352.1 376.8L352.5 366.7L352.8 357.9L353.1 351.3L353.5 346.5L353.8 345.4L354.1 343.9L354.5 342.7L354.8 340.4L355.1 339.5L355.4 338.9L355.8 337.2L356.1 336.2L356.4 337.8L356.8 338.4L357.1 340.3L357.4 341.3L357.8 342.1L358.1 340.4L358.4 339.2L358.8 337.8L359.1 338.1L359.4 336.6L359.7 337.2L360.1 340.5L360.4 342.4L360.7 345.5L361.1 346.0L361.4 349.5L361.7 352.8L362.1 356.0L362.4 359.7L362.7 363.0L363.1 365.8L363.4 369.3L363.7 371.1L364.0 374.8L364.4 377.5L364.7 378.4L365.0 381.3L365.4 382.1L365.7 383.8L366.0 386.0L366.4 385.0L366.7 386.5L367.0 385.7L367.4 386.2L367.7 383.3L368.0 375.0L368.4 364.9L368.7 357.5L369.0 352.1L369.3 346.9L369.7 346.1L370.0 343.9L370.3 342.4L370.7 341.0L371.0 339.2L371.3 338.8L371.7 337.2L372.0 336.2L372.3 337.7L372.7 339.4L373.0 340.5L373.3 341.3L373.6 341.5L374.0 342.3L374.3 339.6L374.6 338.3L375.0 337.6L375.3 337.0L375.6 337.6L376.0 340.0L376.3 341.9L376.6 344.9L377.0 347.1L377.3 350.9L377.6 353.0L378.0 358.2L378.3 361.0L378.6 363.6L378.9 368.2L379.3 369.9L379.6 373.9L379.9 376.1L380.3 379.3L380.6 381.2L380.9 383.0L381.3 384.4L381.6 385.8L381.9 385.6L382.3 387.3L382.6 388.4L382.9 387.9L383.2 387.0L383.6 383.8L383.9 376.7L384.2 368.5L384.6 360.1L384.9 354.0L385.2 350.7L385.6 348.5L385.9 348.8L386.2 345.9L386.6 343.4L386.9 344.3L387.2 342.5L387.5 341.1L387.9 340.0L388.2 339.6L388.5 343.4L388.9 343.9L389.2 344.1L389.5 346.0L389.9 344.9L390.2 342.6L390.5 341.7L390.9 340.9L391.2 341.4L391.5 341.4L391.9 343.2L392.2 345.8L392.5 348.2L392.8 348.9L393.2 353.7L393.5 357.1L393.8 359.4L394.2 363.0L394.5 366.3L394.8 369.5L395.2 371.7L395.5 374.8L395.8 378.3L396.2 380.2L396.5 381.9L396.8 384.5L397.1 384.8L397.5 386.1L397.8 388.3L398.1 388.0L398.5 387.6L398.8 388.3L399.1 388.4L399.5 385.3L399.8 380.2L400.1 372.0L400.5 364.5L400.8 359.4L401.1 355.8L401.4 354.3L401.8 352.7L402.1 351.8L402.4 350.3L402.8 349.1L403.1 348.6L403.4 347.3L403.8 347.9L404.1 347.5L404.4 348.0L404.8 349.1L405.1 350.5L405.4 351.3L405.8 351.6L406.1 349.6L406.4 348.3L406.7 348.5L407.1 346.3L407.4 347.5L407.7 349.4L408.1 353.4L408.4 355.1L408.7 358.9L409.1 360.5L409.4 364.4L409.7 368.3L410.1 370.5L410.4 374.1L410.7 378.7L411.0 380.1L411.4 384.8L411.7 387.0L412.0 389.2L412.4 393.3L412.7 393.7L413.0 395.6L413.4 396.8L413.7 398.6L414.0 398.4L414.4 399.7L414.7 400.2L415.0 399.2L415.4 397.5L415.7 391.0L416.0 385.6L416.3 380.0L416.7 375.5L417.0 372.4L417.3 370.5L417.7 369.4L418.0 368.9L418.3 368.1L418.7 367.0L419.0 365.8L419.3 365.2L419.7 365.2L420.0 366.2L420.3 365.2L420.6 366.9L421.0 367.8L421.3 368.3L421.6 368.4L422.0 367.8L422.3 366.6L422.6 365.6L423.0 365.0L423.3 366.4L423.6 367.3L424.0 368.6L424.3 371.0L424.6 372.6L424.9 376.0L425.3 377.2L425.6 379.4L425.9 382.5L426.3 385.2L426.6 386.5L426.9 389.2L427.3 390.6L427.6 393.1L427.9 394.4L428.3 396.5L428.6 398.7L428.9 398.8L429.3 399.8L429.6 400.1L429.9 401.1L430.2 401.4L430.6 401.1L430.9 400.2L431.2 398.0L431.6 392.2L431.9 384.5L432.2 378.3L432.6 373.4L432.9 370.4L433.2 368.9L433.6 367.6L433.9 365.0L434.2 365.4L434.5 364.6L434.9 363.7L435.2 362.8L435.5 361.9L435.9 362.8L436.2 364.9L436.5 364.8L436.9 366.4L437.2 366.0L437.5 365.7L437.9 364.1L438.2 362.8L438.5 362.5L438.9 362.1L439.2 363.5L439.5 365.0L439.8 365.6L440.2 368.5L440.5 369.1L440.8 371.2L441.2 372.9L441.5 375.5L441.8 377.5L442.2 380.3L442.5 382.4L442.8 385.0L443.2 385.9L443.5 387.0L443.8 389.5L444.1 390.8L444.5 393.0L444.8 392.4L445.1 394.5L445.5 394.4L445.8 395.1L446.1 396.1L446.5 395.3L446.8 394.9L447.1 391.6L447.5 384.2L447.8 374.2L448.1 366.6L448.4 359.8L448.8 356.1L449.1 353.7L449.4 352.4L449.8 351.2L450.1 349.5L450.4 348.2L450.8 346.7L451.1 345.1L451.4 345.7L451.8 344.9L452.1 348.3L452.4 349.2L452.8 349.6L453.1 351.3L453.4 350.6L453.7 348.2L454.1 347.0L454.4 345.8L454.7 344.9L455.1 344.7L455.4 348.1L455.7 350.6L456.1 351.7L456.4 354.8L456.7 358.3L457.1 360.4L457.4 364.0L457.7 367.0L458.0 370.6L458.4 374.6L458.7 376.2L459.0 379.5L459.4 382.9L459.7 385.2L460.0 386.3L460.4 389.2L460.7 390.1L461.0 390.9L461.4 392.4L461.7 393.8L462.0 393.1L462.4 393.4L462.7 392.5L463.0 389.0L463.3 382.6L463.7 372.2L464.0 364.1L464.3 359.0L464.7 353.7L465.0 351.6L465.3 350.5L465.7 348.3L466.0 347.6L466.3 347.4L466.7 345.1L467.0 344.6L467.3 343.6L467.6 343.9L468.0 345.3L468.3 347.2L468.6 348.7L469.0 348.7L469.3 348.1L469.6 347.7L470.0 346.2L470.3 344.9L470.6 343.8L471.0 344.7L471.3 346.4L471.6 348.7L471.9 351.8L472.3 354.6L472.6 357.9L472.9 361.0L473.3 365.3L473.6 368.3L473.9 372.2L474.3 376.0L474.6 379.3L474.9 382.3L475.3 385.2L475.6 388.5L475.9 389.8L476.3 392.4L476.6 393.6L476.9 394.7L477.2 395.8L477.6 397.1L477.9 397.3L478.2 398.7L478.6 398.2L478.9 395.1L479.2 386.6L479.6 379.1L479.9 370.8L480.2 364.5L480.6 361.7L480.9 358.6L481.2 357.0L481.5 356.0L481.9 354.1L482.2 353.9L482.5 353.6L482.9 352.0L483.2 351.6L483.5 352.3L483.9 354.2L484.2 353.6L484.5 355.8L484.9 356.2L485.2 356.1L485.5 354.5L485.9 353.6L486.2 352.5L486.5 351.7L486.8 353.2L487.2 354.8L487.5 356.6L487.8 358.1L488.2 361.2L488.5 363.8L488.8 367.5L489.2 370.8L489.5 374.8L489.8 377.4L490.2 381.9L490.5 383.6L490.8 385.3L491.1 388.8L491.5 390.8L491.8 393.8L492.1 396.4L492.5 397.0L492.8 398.2L493.1 398.4L493.5 398.5L493.8 400.5L494.1 400.8L494.5 399.8L494.8 397.1L495.1 391.2L495.4 381.2L495.8 374.2L496.1 368.5L496.4 365.7L496.8 363.1L497.1 362.5L497.4 359.6L497.8 359.6L498.1 358.1L498.4 357.1L498.8 356.3L499.1 355.7L499.4 356.3L499.8 356.2L500.1 358.4L500.4 359.0L500.7 358.7L501.1 359.5L501.4 357.9L501.7 357.1L502.1 355.3L502.4 354.5L502.7 355.9L503.1 358.2L503.4 359.9L503.7 361.8L504.1 365.9L504.4 367.5L504.7 370.5L505.0 373.1L505.4 377.1L505.7 378.7L506.0 382.7L506.4 384.9L506.7 387.6L507.0 390.8L507.4 392.4L507.7 395.1L508.0 396.5L508.4 397.2L508.7 398.1L509.0 399.2L509.3 399.7L509.7 398.9L510.0 400.3L510.3 400.3L510.7 396.9L511.0 389.8L511.3 379.4L511.7 372.0L512.0 365.9L512.3 360.4L512.7 359.2L513.0 357.8L513.3 356.1L513.7 354.9L514.0 352.8L514.3 352.1L514.6 350.8L515.0 352.2L515.3 350.5L515.6 352.1L516.0 353.1L516.3 354.9L516.6 356.6L517.0 354.8L517.3 354.2L517.6 353.6L518.0 351.7L518.3 349.5L518.6 350.9L518.9 353.3L519.3 356.5L519.6 357.1L519.9 361.7L520.3 364.1L520.6 367.9L520.9 369.4L521.3 373.3L521.6 376.4L521.9 380.2L522.3 383.1L522.6 385.8L522.9 389.8L523.3 390.7L523.6 392.9L523.9 395.7L524.2 396.7L524.6 397.7L524.9 398.2L525.2 399.3L525.6 400.0L525.9 400.9L526.2 400.7L526.6 397.9L526.9 392.3L527.2 385.0L527.6 379.1L527.9 374.2L528.2 371.3L528.5 369.8L528.9 368.4L529.2 367.4L529.5 366.7L529.9 365.5L530.2 365.9L530.5 363.5L530.9 364.2L531.2 363.2L531.5 365.1L531.9 365.6L532.2 366.8L532.5 367.9L532.8 366.4L533.2 365.9L533.5 365.0L533.8 364.1L534.2 362.7L534.5 363.8L534.8 365.7L535.2 368.1L535.5 369.2L535.8 370.7L536.2 371.9L536.5 374.7L536.8 377.1L537.2 378.7L537.5 381.8L537.8 384.1L538.1 385.9L538.5 388.8L538.8 389.4L539.1 391.4L539.5 393.3L539.8 395.2" fill="none" stroke="#000" stroke-width="1.45" stroke-linejoin="round"/>
<path d="M47.3 272.5V482.1M46.7 481.5H540.4M43.5 481.50H47.3M44.3 467.60H47.3M44.3 453.70H47.3M44.3 439.80H47.3M44.3 425.90H47.3M43.5 412.00H47.3M44.3 398.10H47.3M44.3 384.20H47.3M44.3 370.30H47.3M44.3 356.40H47.3M43.5 342.50H47.3M44.3 328.60H47.3M44.3 314.70H47.3M44.3 300.80H47.3M44.3 286.90H47.3M43.5 273.00H47.3M47.30 481.5V485.1M63.72 481.5V485.1M80.13 481.5V485.1M96.55 481.5V485.1M112.97 481.5V485.1M129.38 481.5V485.1M145.80 481.5V485.1M162.22 481.5V485.1M178.63 481.5V485.1M195.05 481.5V485.1M211.47 481.5V485.1M227.88 481.5V485.1M244.30 481.5V485.1M260.72 481.5V485.1M277.13 481.5V485.1M293.55 481.5V485.1M309.97 481.5V485.1M326.38 481.5V485.1M342.80 481.5V485.1M359.22 481.5V485.1M375.63 481.5V485.1M392.05 481.5V485.1M408.47 481.5V485.1M424.88 481.5V485.1M441.30 481.5V485.1M457.72 481.5V485.1M474.13 481.5V485.1M490.55 481.5V485.1M506.97 481.5V485.1M523.38 481.5V485.1M539.80 481.5V485.1" stroke="#000" stroke-width="1.5" fill="none"/>
<text x="35.8" y="485.0" text-anchor="end" font-family="Liberation Sans, Arial, sans-serif" font-weight="bold" font-size="10.75" textLength="6.0" lengthAdjust="spacingAndGlyphs">0</text>
<text x="35.8" y="415.5" text-anchor="end" font-family="Liberation Sans, Arial, sans-serif" font-weight="bold" font-size="10.75" textLength="12.0" lengthAdjust="spacingAndGlyphs">50</text>
<text x="35.8" y="346.0" text-anchor="end" font-family="Liberation Sans, Arial, sans-serif" font-weight="bold" font-size="10.75" textLength="18.0" lengthAdjust="spacingAndGlyphs">100</text>
<text x="35.8" y="276.5" text-anchor="end" font-family="Liberation Sans, Arial, sans-serif" font-weight="bold" font-size="10.75" textLength="18.0" lengthAdjust="spacingAndGlyphs">150</text>
<text x="47.3" y="502.0" text-anchor="middle" font-family="Liberation Sans, Arial, sans-serif" font-weight="bold" font-size="10.75" textLength="11.6" lengthAdjust="spacingAndGlyphs">01</text>
<text x="96.5" y="502.0" text-anchor="middle" font-family="Liberation Sans, Arial, sans-serif" font-weight="bold" font-size="10.75" textLength="11.6" lengthAdjust="spacingAndGlyphs">04</text>
<text x="145.8" y="502.0" text-anchor="middle" font-family="Liberation Sans, Arial, sans-serif" font-weight="bold" font-size="10.75" textLength="11.6" lengthAdjust="spacingAndGlyphs">07</text>
<text x="195.0" y="502.0" text-anchor="middle" font-family="Liberation Sans, Arial, sans-serif" font-weight="bold" font-size="10.75" textLength="11.6" lengthAdjust="spacingAndGlyphs">10</text>
<text x="244.3" y="502.0" text-anchor="middle" font-family="Liberation Sans, Arial, sans-serif" font-weight="bold" font-size="10.75" textLength="11.6" lengthAdjust="spacingAndGlyphs">13</text>
<text x="293.5" y="502.0" text-anchor="middle" font-family="Liberation Sans, Arial, sans-serif" font-weight="bold" font-size="10.75" textLength="11.6" lengthAdjust="spacingAndGlyphs">16</text>
<text x="342.8" y="502.0" text-anchor="middle" font-family="Liberation Sans, Arial, sans-serif" font-weight="bold" font-size="10.75" textLength="11.6" lengthAdjust="spacingAndGlyphs">19</text>
<text x="392.0" y="502.0" text-anchor="middle" font-family="Liberation Sans, Arial, sans-serif" font-weight="bold" font-size="10.75" textLength="11.6" lengthAdjust="spacingAndGlyphs">22</text>
<text x="441.3" y="502.0" text-anchor="middle" font-family="Liberation Sans, Arial, sans-serif" font-weight="bold" font-size="10.75" textLength="11.6" lengthAdjust="spacingAndGlyphs">25</text>
<text x="490.5" y="502.0" text-anchor="middle" font-family="Liberation Sans, Arial, sans-serif" font-weight="bold" font-size="10.75" textLength="11.6" lengthAdjust="spacingAndGlyphs">28</text>
<text x="539.8" y="502.0" text-anchor="middle" font-family="Liberation Sans, Arial, sans-serif" font-weight="bold" font-size="10.75" textLength="11.6" lengthAdjust="spacingAndGlyphs">31</text>
<text transform="translate(12.3 377.8) rotate(-90)" text-anchor="middle" font-family="Liberation Sans, Arial, sans-serif" font-weight="bold" font-size="10.75" textLength="61" lengthAdjust="spacingAndGlyphs">Power (GW)</text>
<text x="348.8" y="328.7" text-anchor="start" fill="#000" font-family="Liberation Sans, Arial, sans-serif" font-weight="bold" font-size="10.75" textLength="42.2" lengthAdjust="spacingAndGlyphs">Demand</text>
<text x="454.6" y="291.0" text-anchor="start" fill="#fbb822" font-family="Liberation Sans, Arial, sans-serif" font-weight="bold" font-size="10.75" textLength="41.4" lengthAdjust="spacingAndGlyphs">Solar PV</text>
<text x="86.6" y="446.8" text-anchor="start" fill="#fff" font-family="Liberation Sans, Arial, sans-serif" font-weight="bold" font-size="10.75" textLength="26.0" lengthAdjust="spacingAndGlyphs">Wind</text>
<text x="87.0" y="474.2" text-anchor="start" fill="#fff" font-family="Liberation Sans, Arial, sans-serif" font-weight="bold" font-size="10.75" textLength="86.4" lengthAdjust="spacingAndGlyphs">Nuclear baseload</text>
<text x="293.5" y="517.4" text-anchor="middle" fill="#000" font-family="Liberation Sans, Arial, sans-serif" font-weight="bold" font-size="10.75" textLength="47.0" lengthAdjust="spacingAndGlyphs">July 2050</text>
</svg></body></html>
